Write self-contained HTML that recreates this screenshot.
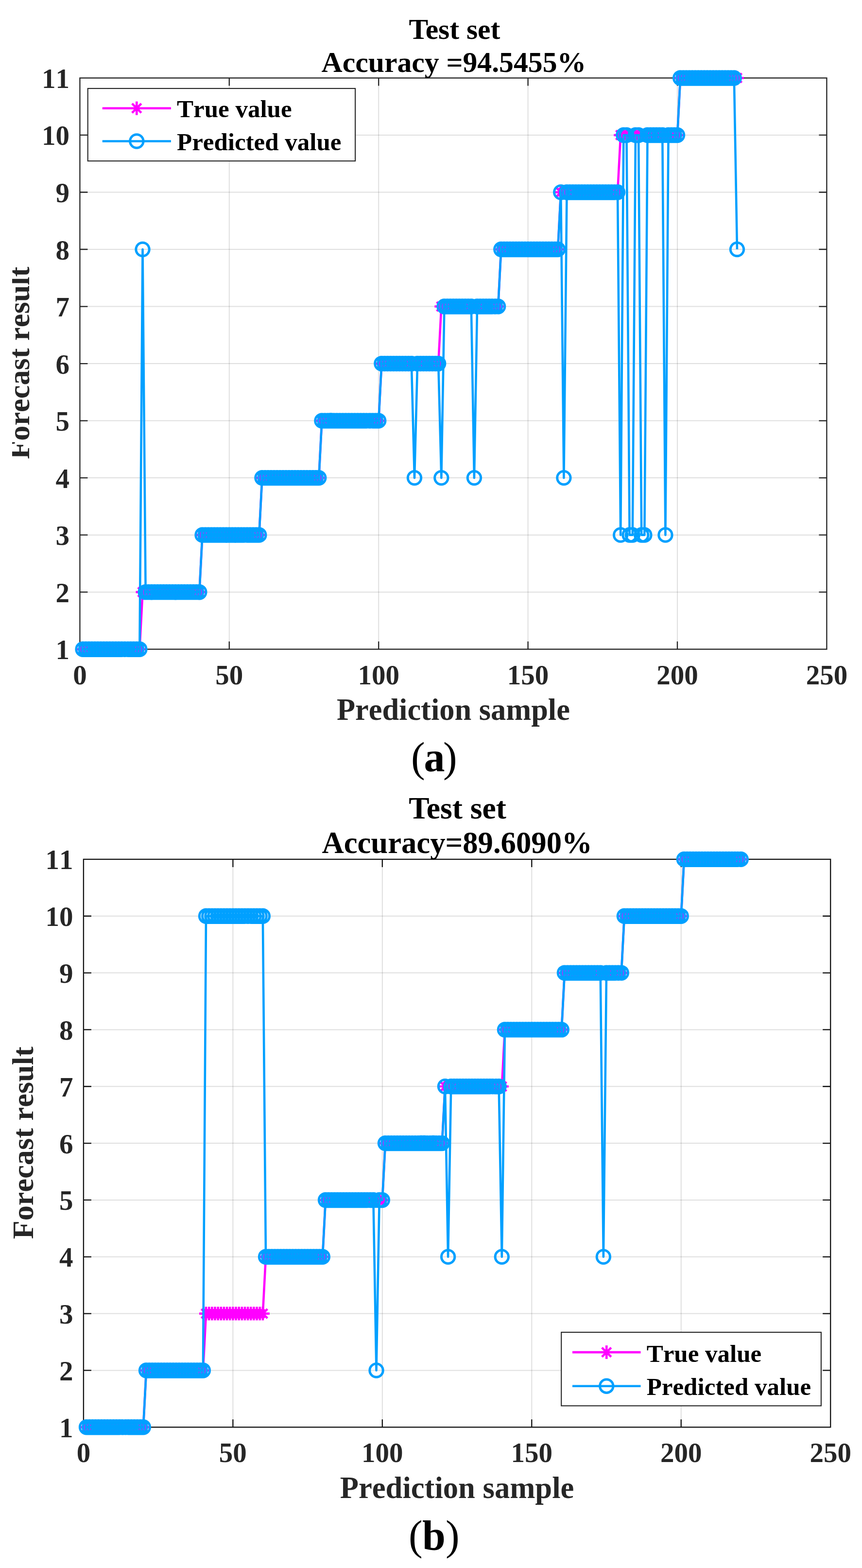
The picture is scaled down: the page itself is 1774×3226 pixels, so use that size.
<!DOCTYPE html>
<html><head><meta charset="utf-8"><title>Test set</title>
<style>html,body{margin:0;padding:0;background:#fff;}body{width:1774px;height:3226px;overflow:hidden;}svg{display:block;}text{font-kerning:normal;}text.k{font-kerning:none;}</style>
</head><body>
<svg width="1774" height="3226" viewBox="0 0 1774 3226" font-family="'Liberation Serif', 'Times New Roman', serif">
<rect width="1774" height="3226" fill="#fff"/>
<g font-weight="bold"><g stroke="#262626" stroke-opacity="0.15" stroke-width="2" fill="none"><path d="M471.8 160.45V1335.7"/><path d="M779.2 160.45V1335.7"/><path d="M1086.6 160.45V1335.7"/><path d="M1394 160.45V1335.7"/><path d="M164.4 1218.17H1701.4"/><path d="M164.4 1100.65H1701.4"/><path d="M164.4 983.12H1701.4"/><path d="M164.4 865.6H1701.4"/><path d="M164.4 748.08H1701.4"/><path d="M164.4 630.55H1701.4"/><path d="M164.4 513.02H1701.4"/><path d="M164.4 395.5H1701.4"/><path d="M164.4 277.97H1701.4"/></g>
<path d="M471.8 1335.7v-16M471.8 160.45v16M779.2 1335.7v-16M779.2 160.45v16M1086.6 1335.7v-16M1086.6 160.45v16M1394 1335.7v-16M1394 160.45v16M164.4 1218.17h16M1701.4 1218.17h-16M164.4 1100.65h16M1701.4 1100.65h-16M164.4 983.12h16M1701.4 983.12h-16M164.4 865.6h16M1701.4 865.6h-16M164.4 748.08h16M1701.4 748.08h-16M164.4 630.55h16M1701.4 630.55h-16M164.4 513.02h16M1701.4 513.02h-16M164.4 395.5h16M1701.4 395.5h-16M164.4 277.97h16M1701.4 277.97h-16" stroke="#222222" stroke-width="2.3" fill="none"/>
<rect x="164.4" y="160.45" width="1537" height="1175.25" stroke="#222222" stroke-width="2.3" fill="none"/>
<polyline points="170.55,1335.7 176.7,1335.7 182.84,1335.7 188.99,1335.7 195.14,1335.7 201.29,1335.7 207.44,1335.7 213.58,1335.7 219.73,1335.7 225.88,1335.7 232.03,1335.7 238.18,1335.7 244.32,1335.7 250.47,1335.7 256.62,1335.7 262.77,1335.7 268.92,1335.7 275.06,1335.7 281.21,1335.7 287.36,1335.7 293.51,1218.17 299.66,1218.17 305.8,1218.17 311.95,1218.17 318.1,1218.17 324.25,1218.17 330.4,1218.17 336.54,1218.17 342.69,1218.17 348.84,1218.17 354.99,1218.17 361.14,1218.17 367.28,1218.17 373.43,1218.17 379.58,1218.17 385.73,1218.17 391.88,1218.17 398.02,1218.17 404.17,1218.17 410.32,1218.17 416.47,1100.65 422.62,1100.65 428.76,1100.65 434.91,1100.65 441.06,1100.65 447.21,1100.65 453.36,1100.65 459.5,1100.65 465.65,1100.65 471.8,1100.65 477.95,1100.65 484.1,1100.65 490.24,1100.65 496.39,1100.65 502.54,1100.65 508.69,1100.65 514.84,1100.65 520.98,1100.65 527.13,1100.65 533.28,1100.65 539.43,983.12 545.58,983.12 551.72,983.12 557.87,983.12 564.02,983.12 570.17,983.12 576.32,983.12 582.46,983.12 588.61,983.12 594.76,983.12 600.91,983.12 607.06,983.12 613.2,983.12 619.35,983.12 625.5,983.12 631.65,983.12 637.8,983.12 643.94,983.12 650.09,983.12 656.24,983.12 662.39,865.6 668.54,865.6 674.68,865.6 680.83,865.6 686.98,865.6 693.13,865.6 699.28,865.6 705.42,865.6 711.57,865.6 717.72,865.6 723.87,865.6 730.02,865.6 736.16,865.6 742.31,865.6 748.46,865.6 754.61,865.6 760.76,865.6 766.9,865.6 773.05,865.6 779.2,865.6 785.35,748.08 791.5,748.08 797.64,748.08 803.79,748.08 809.94,748.08 816.09,748.08 822.24,748.08 828.38,748.08 834.53,748.08 840.68,748.08 846.83,748.08 852.98,748.08 859.12,748.08 865.27,748.08 871.42,748.08 877.57,748.08 883.72,748.08 889.86,748.08 896.01,748.08 902.16,748.08 908.31,630.55 914.46,630.55 920.6,630.55 926.75,630.55 932.9,630.55 939.05,630.55 945.2,630.55 951.34,630.55 957.49,630.55 963.64,630.55 969.79,630.55 975.94,630.55 982.08,630.55 988.23,630.55 994.38,630.55 1000.53,630.55 1006.68,630.55 1012.82,630.55 1018.97,630.55 1025.12,630.55 1031.27,513.02 1037.42,513.02 1043.56,513.02 1049.71,513.02 1055.86,513.02 1062.01,513.02 1068.16,513.02 1074.3,513.02 1080.45,513.02 1086.6,513.02 1092.75,513.02 1098.9,513.02 1105.04,513.02 1111.19,513.02 1117.34,513.02 1123.49,513.02 1129.64,513.02 1135.78,513.02 1141.93,513.02 1148.08,513.02 1154.23,395.5 1160.38,395.5 1166.52,395.5 1172.67,395.5 1178.82,395.5 1184.97,395.5 1191.12,395.5 1197.26,395.5 1203.41,395.5 1209.56,395.5 1215.71,395.5 1221.86,395.5 1228,395.5 1234.15,395.5 1240.3,395.5 1246.45,395.5 1252.6,395.5 1258.74,395.5 1264.89,395.5 1271.04,395.5 1277.19,277.97 1283.34,277.97 1289.48,277.97 1295.63,277.97 1301.78,277.97 1307.93,277.97 1314.08,277.97 1320.22,277.97 1326.37,277.97 1332.52,277.97 1338.67,277.97 1344.82,277.97 1350.96,277.97 1357.11,277.97 1363.26,277.97 1369.41,277.97 1375.56,277.97 1381.7,277.97 1387.85,277.97 1394,277.97 1400.15,160.45 1406.3,160.45 1412.44,160.45 1418.59,160.45 1424.74,160.45 1430.89,160.45 1437.04,160.45 1443.18,160.45 1449.33,160.45 1455.48,160.45 1461.63,160.45 1467.78,160.45 1473.92,160.45 1480.07,160.45 1486.22,160.45 1492.37,160.45 1498.52,160.45 1504.66,160.45 1510.81,160.45 1516.96,160.45" stroke="#FF00FF" stroke-width="4.6" fill="none" stroke-linejoin="round"/>
<path d="M170.55 1321.7v28 M156.55 1335.7h28 M161.05 1326.2l19 19 M161.05 1345.2l19 -19 M176.7 1321.7v28 M162.7 1335.7h28 M167.2 1326.2l19 19 M167.2 1345.2l19 -19 M182.84 1321.7v28 M168.84 1335.7h28 M173.34 1326.2l19 19 M173.34 1345.2l19 -19 M188.99 1321.7v28 M174.99 1335.7h28 M179.49 1326.2l19 19 M179.49 1345.2l19 -19 M195.14 1321.7v28 M181.14 1335.7h28 M185.64 1326.2l19 19 M185.64 1345.2l19 -19 M201.29 1321.7v28 M187.29 1335.7h28 M191.79 1326.2l19 19 M191.79 1345.2l19 -19 M207.44 1321.7v28 M193.44 1335.7h28 M197.94 1326.2l19 19 M197.94 1345.2l19 -19 M213.58 1321.7v28 M199.58 1335.7h28 M204.08 1326.2l19 19 M204.08 1345.2l19 -19 M219.73 1321.7v28 M205.73 1335.7h28 M210.23 1326.2l19 19 M210.23 1345.2l19 -19 M225.88 1321.7v28 M211.88 1335.7h28 M216.38 1326.2l19 19 M216.38 1345.2l19 -19 M232.03 1321.7v28 M218.03 1335.7h28 M222.53 1326.2l19 19 M222.53 1345.2l19 -19 M238.18 1321.7v28 M224.18 1335.7h28 M228.68 1326.2l19 19 M228.68 1345.2l19 -19 M244.32 1321.7v28 M230.32 1335.7h28 M234.82 1326.2l19 19 M234.82 1345.2l19 -19 M250.47 1321.7v28 M236.47 1335.7h28 M240.97 1326.2l19 19 M240.97 1345.2l19 -19 M256.62 1321.7v28 M242.62 1335.7h28 M247.12 1326.2l19 19 M247.12 1345.2l19 -19 M262.77 1321.7v28 M248.77 1335.7h28 M253.27 1326.2l19 19 M253.27 1345.2l19 -19 M268.92 1321.7v28 M254.92 1335.7h28 M259.42 1326.2l19 19 M259.42 1345.2l19 -19 M275.06 1321.7v28 M261.06 1335.7h28 M265.56 1326.2l19 19 M265.56 1345.2l19 -19 M281.21 1321.7v28 M267.21 1335.7h28 M271.71 1326.2l19 19 M271.71 1345.2l19 -19 M287.36 1321.7v28 M273.36 1335.7h28 M277.86 1326.2l19 19 M277.86 1345.2l19 -19 M293.51 1204.17v28 M279.51 1218.17h28 M284.01 1208.67l19 19 M284.01 1227.67l19 -19 M299.66 1204.17v28 M285.66 1218.17h28 M290.16 1208.67l19 19 M290.16 1227.67l19 -19 M305.8 1204.17v28 M291.8 1218.17h28 M296.3 1208.67l19 19 M296.3 1227.67l19 -19 M311.95 1204.17v28 M297.95 1218.17h28 M302.45 1208.67l19 19 M302.45 1227.67l19 -19 M318.1 1204.17v28 M304.1 1218.17h28 M308.6 1208.67l19 19 M308.6 1227.67l19 -19 M324.25 1204.17v28 M310.25 1218.17h28 M314.75 1208.67l19 19 M314.75 1227.67l19 -19 M330.4 1204.17v28 M316.4 1218.17h28 M320.9 1208.67l19 19 M320.9 1227.67l19 -19 M336.54 1204.17v28 M322.54 1218.17h28 M327.04 1208.67l19 19 M327.04 1227.67l19 -19 M342.69 1204.17v28 M328.69 1218.17h28 M333.19 1208.67l19 19 M333.19 1227.67l19 -19 M348.84 1204.17v28 M334.84 1218.17h28 M339.34 1208.67l19 19 M339.34 1227.67l19 -19 M354.99 1204.17v28 M340.99 1218.17h28 M345.49 1208.67l19 19 M345.49 1227.67l19 -19 M361.14 1204.17v28 M347.14 1218.17h28 M351.64 1208.67l19 19 M351.64 1227.67l19 -19 M367.28 1204.17v28 M353.28 1218.17h28 M357.78 1208.67l19 19 M357.78 1227.67l19 -19 M373.43 1204.17v28 M359.43 1218.17h28 M363.93 1208.67l19 19 M363.93 1227.67l19 -19 M379.58 1204.17v28 M365.58 1218.17h28 M370.08 1208.67l19 19 M370.08 1227.67l19 -19 M385.73 1204.17v28 M371.73 1218.17h28 M376.23 1208.67l19 19 M376.23 1227.67l19 -19 M391.88 1204.17v28 M377.88 1218.17h28 M382.38 1208.67l19 19 M382.38 1227.67l19 -19 M398.02 1204.17v28 M384.02 1218.17h28 M388.52 1208.67l19 19 M388.52 1227.67l19 -19 M404.17 1204.17v28 M390.17 1218.17h28 M394.67 1208.67l19 19 M394.67 1227.67l19 -19 M410.32 1204.17v28 M396.32 1218.17h28 M400.82 1208.67l19 19 M400.82 1227.67l19 -19 M416.47 1086.65v28 M402.47 1100.65h28 M406.97 1091.15l19 19 M406.97 1110.15l19 -19 M422.62 1086.65v28 M408.62 1100.65h28 M413.12 1091.15l19 19 M413.12 1110.15l19 -19 M428.76 1086.65v28 M414.76 1100.65h28 M419.26 1091.15l19 19 M419.26 1110.15l19 -19 M434.91 1086.65v28 M420.91 1100.65h28 M425.41 1091.15l19 19 M425.41 1110.15l19 -19 M441.06 1086.65v28 M427.06 1100.65h28 M431.56 1091.15l19 19 M431.56 1110.15l19 -19 M447.21 1086.65v28 M433.21 1100.65h28 M437.71 1091.15l19 19 M437.71 1110.15l19 -19 M453.36 1086.65v28 M439.36 1100.65h28 M443.86 1091.15l19 19 M443.86 1110.15l19 -19 M459.5 1086.65v28 M445.5 1100.65h28 M450 1091.15l19 19 M450 1110.15l19 -19 M465.65 1086.65v28 M451.65 1100.65h28 M456.15 1091.15l19 19 M456.15 1110.15l19 -19 M471.8 1086.65v28 M457.8 1100.65h28 M462.3 1091.15l19 19 M462.3 1110.15l19 -19 M477.95 1086.65v28 M463.95 1100.65h28 M468.45 1091.15l19 19 M468.45 1110.15l19 -19 M484.1 1086.65v28 M470.1 1100.65h28 M474.6 1091.15l19 19 M474.6 1110.15l19 -19 M490.24 1086.65v28 M476.24 1100.65h28 M480.74 1091.15l19 19 M480.74 1110.15l19 -19 M496.39 1086.65v28 M482.39 1100.65h28 M486.89 1091.15l19 19 M486.89 1110.15l19 -19 M502.54 1086.65v28 M488.54 1100.65h28 M493.04 1091.15l19 19 M493.04 1110.15l19 -19 M508.69 1086.65v28 M494.69 1100.65h28 M499.19 1091.15l19 19 M499.19 1110.15l19 -19 M514.84 1086.65v28 M500.84 1100.65h28 M505.34 1091.15l19 19 M505.34 1110.15l19 -19 M520.98 1086.65v28 M506.98 1100.65h28 M511.48 1091.15l19 19 M511.48 1110.15l19 -19 M527.13 1086.65v28 M513.13 1100.65h28 M517.63 1091.15l19 19 M517.63 1110.15l19 -19 M533.28 1086.65v28 M519.28 1100.65h28 M523.78 1091.15l19 19 M523.78 1110.15l19 -19 M539.43 969.12v28 M525.43 983.12h28 M529.93 973.62l19 19 M529.93 992.62l19 -19 M545.58 969.12v28 M531.58 983.12h28 M536.08 973.62l19 19 M536.08 992.62l19 -19 M551.72 969.12v28 M537.72 983.12h28 M542.22 973.62l19 19 M542.22 992.62l19 -19 M557.87 969.12v28 M543.87 983.12h28 M548.37 973.62l19 19 M548.37 992.62l19 -19 M564.02 969.12v28 M550.02 983.12h28 M554.52 973.62l19 19 M554.52 992.62l19 -19 M570.17 969.12v28 M556.17 983.12h28 M560.67 973.62l19 19 M560.67 992.62l19 -19 M576.32 969.12v28 M562.32 983.12h28 M566.82 973.62l19 19 M566.82 992.62l19 -19 M582.46 969.12v28 M568.46 983.12h28 M572.96 973.62l19 19 M572.96 992.62l19 -19 M588.61 969.12v28 M574.61 983.12h28 M579.11 973.62l19 19 M579.11 992.62l19 -19 M594.76 969.12v28 M580.76 983.12h28 M585.26 973.62l19 19 M585.26 992.62l19 -19 M600.91 969.12v28 M586.91 983.12h28 M591.41 973.62l19 19 M591.41 992.62l19 -19 M607.06 969.12v28 M593.06 983.12h28 M597.56 973.62l19 19 M597.56 992.62l19 -19 M613.2 969.12v28 M599.2 983.12h28 M603.7 973.62l19 19 M603.7 992.62l19 -19 M619.35 969.12v28 M605.35 983.12h28 M609.85 973.62l19 19 M609.85 992.62l19 -19 M625.5 969.12v28 M611.5 983.12h28 M616 973.62l19 19 M616 992.62l19 -19 M631.65 969.12v28 M617.65 983.12h28 M622.15 973.62l19 19 M622.15 992.62l19 -19 M637.8 969.12v28 M623.8 983.12h28 M628.3 973.62l19 19 M628.3 992.62l19 -19 M643.94 969.12v28 M629.94 983.12h28 M634.44 973.62l19 19 M634.44 992.62l19 -19 M650.09 969.12v28 M636.09 983.12h28 M640.59 973.62l19 19 M640.59 992.62l19 -19 M656.24 969.12v28 M642.24 983.12h28 M646.74 973.62l19 19 M646.74 992.62l19 -19 M662.39 851.6v28 M648.39 865.6h28 M652.89 856.1l19 19 M652.89 875.1l19 -19 M668.54 851.6v28 M654.54 865.6h28 M659.04 856.1l19 19 M659.04 875.1l19 -19 M674.68 851.6v28 M660.68 865.6h28 M665.18 856.1l19 19 M665.18 875.1l19 -19 M680.83 851.6v28 M666.83 865.6h28 M671.33 856.1l19 19 M671.33 875.1l19 -19 M686.98 851.6v28 M672.98 865.6h28 M677.48 856.1l19 19 M677.48 875.1l19 -19 M693.13 851.6v28 M679.13 865.6h28 M683.63 856.1l19 19 M683.63 875.1l19 -19 M699.28 851.6v28 M685.28 865.6h28 M689.78 856.1l19 19 M689.78 875.1l19 -19 M705.42 851.6v28 M691.42 865.6h28 M695.92 856.1l19 19 M695.92 875.1l19 -19 M711.57 851.6v28 M697.57 865.6h28 M702.07 856.1l19 19 M702.07 875.1l19 -19 M717.72 851.6v28 M703.72 865.6h28 M708.22 856.1l19 19 M708.22 875.1l19 -19 M723.87 851.6v28 M709.87 865.6h28 M714.37 856.1l19 19 M714.37 875.1l19 -19 M730.02 851.6v28 M716.02 865.6h28 M720.52 856.1l19 19 M720.52 875.1l19 -19 M736.16 851.6v28 M722.16 865.6h28 M726.66 856.1l19 19 M726.66 875.1l19 -19 M742.31 851.6v28 M728.31 865.6h28 M732.81 856.1l19 19 M732.81 875.1l19 -19 M748.46 851.6v28 M734.46 865.6h28 M738.96 856.1l19 19 M738.96 875.1l19 -19 M754.61 851.6v28 M740.61 865.6h28 M745.11 856.1l19 19 M745.11 875.1l19 -19 M760.76 851.6v28 M746.76 865.6h28 M751.26 856.1l19 19 M751.26 875.1l19 -19 M766.9 851.6v28 M752.9 865.6h28 M757.4 856.1l19 19 M757.4 875.1l19 -19 M773.05 851.6v28 M759.05 865.6h28 M763.55 856.1l19 19 M763.55 875.1l19 -19 M779.2 851.6v28 M765.2 865.6h28 M769.7 856.1l19 19 M769.7 875.1l19 -19 M785.35 734.08v28 M771.35 748.08h28 M775.85 738.58l19 19 M775.85 757.58l19 -19 M791.5 734.08v28 M777.5 748.08h28 M782 738.58l19 19 M782 757.58l19 -19 M797.64 734.08v28 M783.64 748.08h28 M788.14 738.58l19 19 M788.14 757.58l19 -19 M803.79 734.08v28 M789.79 748.08h28 M794.29 738.58l19 19 M794.29 757.58l19 -19 M809.94 734.08v28 M795.94 748.08h28 M800.44 738.58l19 19 M800.44 757.58l19 -19 M816.09 734.08v28 M802.09 748.08h28 M806.59 738.58l19 19 M806.59 757.58l19 -19 M822.24 734.08v28 M808.24 748.08h28 M812.74 738.58l19 19 M812.74 757.58l19 -19 M828.38 734.08v28 M814.38 748.08h28 M818.88 738.58l19 19 M818.88 757.58l19 -19 M834.53 734.08v28 M820.53 748.08h28 M825.03 738.58l19 19 M825.03 757.58l19 -19 M840.68 734.08v28 M826.68 748.08h28 M831.18 738.58l19 19 M831.18 757.58l19 -19 M846.83 734.08v28 M832.83 748.08h28 M837.33 738.58l19 19 M837.33 757.58l19 -19 M852.98 734.08v28 M838.98 748.08h28 M843.48 738.58l19 19 M843.48 757.58l19 -19 M859.12 734.08v28 M845.12 748.08h28 M849.62 738.58l19 19 M849.62 757.58l19 -19 M865.27 734.08v28 M851.27 748.08h28 M855.77 738.58l19 19 M855.77 757.58l19 -19 M871.42 734.08v28 M857.42 748.08h28 M861.92 738.58l19 19 M861.92 757.58l19 -19 M877.57 734.08v28 M863.57 748.08h28 M868.07 738.58l19 19 M868.07 757.58l19 -19 M883.72 734.08v28 M869.72 748.08h28 M874.22 738.58l19 19 M874.22 757.58l19 -19 M889.86 734.08v28 M875.86 748.08h28 M880.36 738.58l19 19 M880.36 757.58l19 -19 M896.01 734.08v28 M882.01 748.08h28 M886.51 738.58l19 19 M886.51 757.58l19 -19 M902.16 734.08v28 M888.16 748.08h28 M892.66 738.58l19 19 M892.66 757.58l19 -19 M908.31 616.55v28 M894.31 630.55h28 M898.81 621.05l19 19 M898.81 640.05l19 -19 M914.46 616.55v28 M900.46 630.55h28 M904.96 621.05l19 19 M904.96 640.05l19 -19 M920.6 616.55v28 M906.6 630.55h28 M911.1 621.05l19 19 M911.1 640.05l19 -19 M926.75 616.55v28 M912.75 630.55h28 M917.25 621.05l19 19 M917.25 640.05l19 -19 M932.9 616.55v28 M918.9 630.55h28 M923.4 621.05l19 19 M923.4 640.05l19 -19 M939.05 616.55v28 M925.05 630.55h28 M929.55 621.05l19 19 M929.55 640.05l19 -19 M945.2 616.55v28 M931.2 630.55h28 M935.7 621.05l19 19 M935.7 640.05l19 -19 M951.34 616.55v28 M937.34 630.55h28 M941.84 621.05l19 19 M941.84 640.05l19 -19 M957.49 616.55v28 M943.49 630.55h28 M947.99 621.05l19 19 M947.99 640.05l19 -19 M963.64 616.55v28 M949.64 630.55h28 M954.14 621.05l19 19 M954.14 640.05l19 -19 M969.79 616.55v28 M955.79 630.55h28 M960.29 621.05l19 19 M960.29 640.05l19 -19 M975.94 616.55v28 M961.94 630.55h28 M966.44 621.05l19 19 M966.44 640.05l19 -19 M982.08 616.55v28 M968.08 630.55h28 M972.58 621.05l19 19 M972.58 640.05l19 -19 M988.23 616.55v28 M974.23 630.55h28 M978.73 621.05l19 19 M978.73 640.05l19 -19 M994.38 616.55v28 M980.38 630.55h28 M984.88 621.05l19 19 M984.88 640.05l19 -19 M1000.53 616.55v28 M986.53 630.55h28 M991.03 621.05l19 19 M991.03 640.05l19 -19 M1006.68 616.55v28 M992.68 630.55h28 M997.18 621.05l19 19 M997.18 640.05l19 -19 M1012.82 616.55v28 M998.82 630.55h28 M1003.32 621.05l19 19 M1003.32 640.05l19 -19 M1018.97 616.55v28 M1004.97 630.55h28 M1009.47 621.05l19 19 M1009.47 640.05l19 -19 M1025.12 616.55v28 M1011.12 630.55h28 M1015.62 621.05l19 19 M1015.62 640.05l19 -19 M1031.27 499.02v28 M1017.27 513.02h28 M1021.77 503.52l19 19 M1021.77 522.52l19 -19 M1037.42 499.02v28 M1023.42 513.02h28 M1027.92 503.52l19 19 M1027.92 522.52l19 -19 M1043.56 499.02v28 M1029.56 513.02h28 M1034.06 503.52l19 19 M1034.06 522.52l19 -19 M1049.71 499.02v28 M1035.71 513.02h28 M1040.21 503.52l19 19 M1040.21 522.52l19 -19 M1055.86 499.02v28 M1041.86 513.02h28 M1046.36 503.52l19 19 M1046.36 522.52l19 -19 M1062.01 499.02v28 M1048.01 513.02h28 M1052.51 503.52l19 19 M1052.51 522.52l19 -19 M1068.16 499.02v28 M1054.16 513.02h28 M1058.66 503.52l19 19 M1058.66 522.52l19 -19 M1074.3 499.02v28 M1060.3 513.02h28 M1064.8 503.52l19 19 M1064.8 522.52l19 -19 M1080.45 499.02v28 M1066.45 513.02h28 M1070.95 503.52l19 19 M1070.95 522.52l19 -19 M1086.6 499.02v28 M1072.6 513.02h28 M1077.1 503.52l19 19 M1077.1 522.52l19 -19 M1092.75 499.02v28 M1078.75 513.02h28 M1083.25 503.52l19 19 M1083.25 522.52l19 -19 M1098.9 499.02v28 M1084.9 513.02h28 M1089.4 503.52l19 19 M1089.4 522.52l19 -19 M1105.04 499.02v28 M1091.04 513.02h28 M1095.54 503.52l19 19 M1095.54 522.52l19 -19 M1111.19 499.02v28 M1097.19 513.02h28 M1101.69 503.52l19 19 M1101.69 522.52l19 -19 M1117.34 499.02v28 M1103.34 513.02h28 M1107.84 503.52l19 19 M1107.84 522.52l19 -19 M1123.49 499.02v28 M1109.49 513.02h28 M1113.99 503.52l19 19 M1113.99 522.52l19 -19 M1129.64 499.02v28 M1115.64 513.02h28 M1120.14 503.52l19 19 M1120.14 522.52l19 -19 M1135.78 499.02v28 M1121.78 513.02h28 M1126.28 503.52l19 19 M1126.28 522.52l19 -19 M1141.93 499.02v28 M1127.93 513.02h28 M1132.43 503.52l19 19 M1132.43 522.52l19 -19 M1148.08 499.02v28 M1134.08 513.02h28 M1138.58 503.52l19 19 M1138.58 522.52l19 -19 M1154.23 381.5v28 M1140.23 395.5h28 M1144.73 386l19 19 M1144.73 405l19 -19 M1160.38 381.5v28 M1146.38 395.5h28 M1150.88 386l19 19 M1150.88 405l19 -19 M1166.52 381.5v28 M1152.52 395.5h28 M1157.02 386l19 19 M1157.02 405l19 -19 M1172.67 381.5v28 M1158.67 395.5h28 M1163.17 386l19 19 M1163.17 405l19 -19 M1178.82 381.5v28 M1164.82 395.5h28 M1169.32 386l19 19 M1169.32 405l19 -19 M1184.97 381.5v28 M1170.97 395.5h28 M1175.47 386l19 19 M1175.47 405l19 -19 M1191.12 381.5v28 M1177.12 395.5h28 M1181.62 386l19 19 M1181.62 405l19 -19 M1197.26 381.5v28 M1183.26 395.5h28 M1187.76 386l19 19 M1187.76 405l19 -19 M1203.41 381.5v28 M1189.41 395.5h28 M1193.91 386l19 19 M1193.91 405l19 -19 M1209.56 381.5v28 M1195.56 395.5h28 M1200.06 386l19 19 M1200.06 405l19 -19 M1215.71 381.5v28 M1201.71 395.5h28 M1206.21 386l19 19 M1206.21 405l19 -19 M1221.86 381.5v28 M1207.86 395.5h28 M1212.36 386l19 19 M1212.36 405l19 -19 M1228 381.5v28 M1214 395.5h28 M1218.5 386l19 19 M1218.5 405l19 -19 M1234.15 381.5v28 M1220.15 395.5h28 M1224.65 386l19 19 M1224.65 405l19 -19 M1240.3 381.5v28 M1226.3 395.5h28 M1230.8 386l19 19 M1230.8 405l19 -19 M1246.45 381.5v28 M1232.45 395.5h28 M1236.95 386l19 19 M1236.95 405l19 -19 M1252.6 381.5v28 M1238.6 395.5h28 M1243.1 386l19 19 M1243.1 405l19 -19 M1258.74 381.5v28 M1244.74 395.5h28 M1249.24 386l19 19 M1249.24 405l19 -19 M1264.89 381.5v28 M1250.89 395.5h28 M1255.39 386l19 19 M1255.39 405l19 -19 M1271.04 381.5v28 M1257.04 395.5h28 M1261.54 386l19 19 M1261.54 405l19 -19 M1277.19 263.97v28 M1263.19 277.97h28 M1267.69 268.47l19 19 M1267.69 287.47l19 -19 M1283.34 263.97v28 M1269.34 277.97h28 M1273.84 268.47l19 19 M1273.84 287.47l19 -19 M1289.48 263.97v28 M1275.48 277.97h28 M1279.98 268.47l19 19 M1279.98 287.47l19 -19 M1295.63 263.97v28 M1281.63 277.97h28 M1286.13 268.47l19 19 M1286.13 287.47l19 -19 M1301.78 263.97v28 M1287.78 277.97h28 M1292.28 268.47l19 19 M1292.28 287.47l19 -19 M1307.93 263.97v28 M1293.93 277.97h28 M1298.43 268.47l19 19 M1298.43 287.47l19 -19 M1314.08 263.97v28 M1300.08 277.97h28 M1304.58 268.47l19 19 M1304.58 287.47l19 -19 M1320.22 263.97v28 M1306.22 277.97h28 M1310.72 268.47l19 19 M1310.72 287.47l19 -19 M1326.37 263.97v28 M1312.37 277.97h28 M1316.87 268.47l19 19 M1316.87 287.47l19 -19 M1332.52 263.97v28 M1318.52 277.97h28 M1323.02 268.47l19 19 M1323.02 287.47l19 -19 M1338.67 263.97v28 M1324.67 277.97h28 M1329.17 268.47l19 19 M1329.17 287.47l19 -19 M1344.82 263.97v28 M1330.82 277.97h28 M1335.32 268.47l19 19 M1335.32 287.47l19 -19 M1350.96 263.97v28 M1336.96 277.97h28 M1341.46 268.47l19 19 M1341.46 287.47l19 -19 M1357.11 263.97v28 M1343.11 277.97h28 M1347.61 268.47l19 19 M1347.61 287.47l19 -19 M1363.26 263.97v28 M1349.26 277.97h28 M1353.76 268.47l19 19 M1353.76 287.47l19 -19 M1369.41 263.97v28 M1355.41 277.97h28 M1359.91 268.47l19 19 M1359.91 287.47l19 -19 M1375.56 263.97v28 M1361.56 277.97h28 M1366.06 268.47l19 19 M1366.06 287.47l19 -19 M1381.7 263.97v28 M1367.7 277.97h28 M1372.2 268.47l19 19 M1372.2 287.47l19 -19 M1387.85 263.97v28 M1373.85 277.97h28 M1378.35 268.47l19 19 M1378.35 287.47l19 -19 M1394 263.97v28 M1380 277.97h28 M1384.5 268.47l19 19 M1384.5 287.47l19 -19 M1400.15 146.45v28 M1386.15 160.45h28 M1390.65 150.95l19 19 M1390.65 169.95l19 -19 M1406.3 146.45v28 M1392.3 160.45h28 M1396.8 150.95l19 19 M1396.8 169.95l19 -19 M1412.44 146.45v28 M1398.44 160.45h28 M1402.94 150.95l19 19 M1402.94 169.95l19 -19 M1418.59 146.45v28 M1404.59 160.45h28 M1409.09 150.95l19 19 M1409.09 169.95l19 -19 M1424.74 146.45v28 M1410.74 160.45h28 M1415.24 150.95l19 19 M1415.24 169.95l19 -19 M1430.89 146.45v28 M1416.89 160.45h28 M1421.39 150.95l19 19 M1421.39 169.95l19 -19 M1437.04 146.45v28 M1423.04 160.45h28 M1427.54 150.95l19 19 M1427.54 169.95l19 -19 M1443.18 146.45v28 M1429.18 160.45h28 M1433.68 150.95l19 19 M1433.68 169.95l19 -19 M1449.33 146.45v28 M1435.33 160.45h28 M1439.83 150.95l19 19 M1439.83 169.95l19 -19 M1455.48 146.45v28 M1441.48 160.45h28 M1445.98 150.95l19 19 M1445.98 169.95l19 -19 M1461.63 146.45v28 M1447.63 160.45h28 M1452.13 150.95l19 19 M1452.13 169.95l19 -19 M1467.78 146.45v28 M1453.78 160.45h28 M1458.28 150.95l19 19 M1458.28 169.95l19 -19 M1473.92 146.45v28 M1459.92 160.45h28 M1464.42 150.95l19 19 M1464.42 169.95l19 -19 M1480.07 146.45v28 M1466.07 160.45h28 M1470.57 150.95l19 19 M1470.57 169.95l19 -19 M1486.22 146.45v28 M1472.22 160.45h28 M1476.72 150.95l19 19 M1476.72 169.95l19 -19 M1492.37 146.45v28 M1478.37 160.45h28 M1482.87 150.95l19 19 M1482.87 169.95l19 -19 M1498.52 146.45v28 M1484.52 160.45h28 M1489.02 150.95l19 19 M1489.02 169.95l19 -19 M1504.66 146.45v28 M1490.66 160.45h28 M1495.16 150.95l19 19 M1495.16 169.95l19 -19 M1510.81 146.45v28 M1496.81 160.45h28 M1501.31 150.95l19 19 M1501.31 169.95l19 -19 M1516.96 146.45v28 M1502.96 160.45h28 M1507.46 150.95l19 19 M1507.46 169.95l19 -19" stroke="#FF00FF" stroke-width="4.6" fill="none"/>
<polyline points="170.55,1335.7 176.7,1335.7 182.84,1335.7 188.99,1335.7 195.14,1335.7 201.29,1335.7 207.44,1335.7 213.58,1335.7 219.73,1335.7 225.88,1335.7 232.03,1335.7 238.18,1335.7 244.32,1335.7 250.47,1335.7 256.62,1335.7 262.77,1335.7 268.92,1335.7 275.06,1335.7 281.21,1335.7 287.36,1335.7 293.51,513.02 299.66,1218.17 305.8,1218.17 311.95,1218.17 318.1,1218.17 324.25,1218.17 330.4,1218.17 336.54,1218.17 342.69,1218.17 348.84,1218.17 354.99,1218.17 361.14,1218.17 367.28,1218.17 373.43,1218.17 379.58,1218.17 385.73,1218.17 391.88,1218.17 398.02,1218.17 404.17,1218.17 410.32,1218.17 416.47,1100.65 422.62,1100.65 428.76,1100.65 434.91,1100.65 441.06,1100.65 447.21,1100.65 453.36,1100.65 459.5,1100.65 465.65,1100.65 471.8,1100.65 477.95,1100.65 484.1,1100.65 490.24,1100.65 496.39,1100.65 502.54,1100.65 508.69,1100.65 514.84,1100.65 520.98,1100.65 527.13,1100.65 533.28,1100.65 539.43,983.12 545.58,983.12 551.72,983.12 557.87,983.12 564.02,983.12 570.17,983.12 576.32,983.12 582.46,983.12 588.61,983.12 594.76,983.12 600.91,983.12 607.06,983.12 613.2,983.12 619.35,983.12 625.5,983.12 631.65,983.12 637.8,983.12 643.94,983.12 650.09,983.12 656.24,983.12 662.39,865.6 668.54,865.6 674.68,865.6 680.83,865.6 686.98,865.6 693.13,865.6 699.28,865.6 705.42,865.6 711.57,865.6 717.72,865.6 723.87,865.6 730.02,865.6 736.16,865.6 742.31,865.6 748.46,865.6 754.61,865.6 760.76,865.6 766.9,865.6 773.05,865.6 779.2,865.6 785.35,748.08 791.5,748.08 797.64,748.08 803.79,748.08 809.94,748.08 816.09,748.08 822.24,748.08 828.38,748.08 834.53,748.08 840.68,748.08 846.83,748.08 852.98,983.12 859.12,748.08 865.27,748.08 871.42,748.08 877.57,748.08 883.72,748.08 889.86,748.08 896.01,748.08 902.16,748.08 908.31,983.12 914.46,630.55 920.6,630.55 926.75,630.55 932.9,630.55 939.05,630.55 945.2,630.55 951.34,630.55 957.49,630.55 963.64,630.55 969.79,630.55 975.94,983.12 982.08,630.55 988.23,630.55 994.38,630.55 1000.53,630.55 1006.68,630.55 1012.82,630.55 1018.97,630.55 1025.12,630.55 1031.27,513.02 1037.42,513.02 1043.56,513.02 1049.71,513.02 1055.86,513.02 1062.01,513.02 1068.16,513.02 1074.3,513.02 1080.45,513.02 1086.6,513.02 1092.75,513.02 1098.9,513.02 1105.04,513.02 1111.19,513.02 1117.34,513.02 1123.49,513.02 1129.64,513.02 1135.78,513.02 1141.93,513.02 1148.08,513.02 1154.23,395.5 1160.38,983.12 1166.52,395.5 1172.67,395.5 1178.82,395.5 1184.97,395.5 1191.12,395.5 1197.26,395.5 1203.41,395.5 1209.56,395.5 1215.71,395.5 1221.86,395.5 1228,395.5 1234.15,395.5 1240.3,395.5 1246.45,395.5 1252.6,395.5 1258.74,395.5 1264.89,395.5 1271.04,395.5 1277.19,1100.65 1283.34,277.97 1289.48,277.97 1295.63,1100.65 1301.78,1100.65 1307.93,277.97 1314.08,277.97 1320.22,1100.65 1326.37,1100.65 1332.52,277.97 1338.67,277.97 1344.82,277.97 1350.96,277.97 1357.11,277.97 1363.26,277.97 1369.41,1100.65 1375.56,277.97 1381.7,277.97 1387.85,277.97 1394,277.97 1400.15,160.45 1406.3,160.45 1412.44,160.45 1418.59,160.45 1424.74,160.45 1430.89,160.45 1437.04,160.45 1443.18,160.45 1449.33,160.45 1455.48,160.45 1461.63,160.45 1467.78,160.45 1473.92,160.45 1480.07,160.45 1486.22,160.45 1492.37,160.45 1498.52,160.45 1504.66,160.45 1510.81,160.45 1516.96,513.02" stroke="#00A0FF" stroke-width="4.6" fill="none" stroke-linejoin="round"/>
<path d="M156.85 1335.7a13.7 13.7 0 1 0 27.4 0a13.7 13.7 0 1 0 -27.4 0M163 1335.7a13.7 13.7 0 1 0 27.4 0a13.7 13.7 0 1 0 -27.4 0M169.14 1335.7a13.7 13.7 0 1 0 27.4 0a13.7 13.7 0 1 0 -27.4 0M175.29 1335.7a13.7 13.7 0 1 0 27.4 0a13.7 13.7 0 1 0 -27.4 0M181.44 1335.7a13.7 13.7 0 1 0 27.4 0a13.7 13.7 0 1 0 -27.4 0M187.59 1335.7a13.7 13.7 0 1 0 27.4 0a13.7 13.7 0 1 0 -27.4 0M193.74 1335.7a13.7 13.7 0 1 0 27.4 0a13.7 13.7 0 1 0 -27.4 0M199.88 1335.7a13.7 13.7 0 1 0 27.4 0a13.7 13.7 0 1 0 -27.4 0M206.03 1335.7a13.7 13.7 0 1 0 27.4 0a13.7 13.7 0 1 0 -27.4 0M212.18 1335.7a13.7 13.7 0 1 0 27.4 0a13.7 13.7 0 1 0 -27.4 0M218.33 1335.7a13.7 13.7 0 1 0 27.4 0a13.7 13.7 0 1 0 -27.4 0M224.48 1335.7a13.7 13.7 0 1 0 27.4 0a13.7 13.7 0 1 0 -27.4 0M230.62 1335.7a13.7 13.7 0 1 0 27.4 0a13.7 13.7 0 1 0 -27.4 0M236.77 1335.7a13.7 13.7 0 1 0 27.4 0a13.7 13.7 0 1 0 -27.4 0M242.92 1335.7a13.7 13.7 0 1 0 27.4 0a13.7 13.7 0 1 0 -27.4 0M249.07 1335.7a13.7 13.7 0 1 0 27.4 0a13.7 13.7 0 1 0 -27.4 0M255.22 1335.7a13.7 13.7 0 1 0 27.4 0a13.7 13.7 0 1 0 -27.4 0M261.36 1335.7a13.7 13.7 0 1 0 27.4 0a13.7 13.7 0 1 0 -27.4 0M267.51 1335.7a13.7 13.7 0 1 0 27.4 0a13.7 13.7 0 1 0 -27.4 0M273.66 1335.7a13.7 13.7 0 1 0 27.4 0a13.7 13.7 0 1 0 -27.4 0M279.81 513.02a13.7 13.7 0 1 0 27.4 0a13.7 13.7 0 1 0 -27.4 0M285.96 1218.17a13.7 13.7 0 1 0 27.4 0a13.7 13.7 0 1 0 -27.4 0M292.1 1218.17a13.7 13.7 0 1 0 27.4 0a13.7 13.7 0 1 0 -27.4 0M298.25 1218.17a13.7 13.7 0 1 0 27.4 0a13.7 13.7 0 1 0 -27.4 0M304.4 1218.17a13.7 13.7 0 1 0 27.4 0a13.7 13.7 0 1 0 -27.4 0M310.55 1218.17a13.7 13.7 0 1 0 27.4 0a13.7 13.7 0 1 0 -27.4 0M316.7 1218.17a13.7 13.7 0 1 0 27.4 0a13.7 13.7 0 1 0 -27.4 0M322.84 1218.17a13.7 13.7 0 1 0 27.4 0a13.7 13.7 0 1 0 -27.4 0M328.99 1218.17a13.7 13.7 0 1 0 27.4 0a13.7 13.7 0 1 0 -27.4 0M335.14 1218.17a13.7 13.7 0 1 0 27.4 0a13.7 13.7 0 1 0 -27.4 0M341.29 1218.17a13.7 13.7 0 1 0 27.4 0a13.7 13.7 0 1 0 -27.4 0M347.44 1218.17a13.7 13.7 0 1 0 27.4 0a13.7 13.7 0 1 0 -27.4 0M353.58 1218.17a13.7 13.7 0 1 0 27.4 0a13.7 13.7 0 1 0 -27.4 0M359.73 1218.17a13.7 13.7 0 1 0 27.4 0a13.7 13.7 0 1 0 -27.4 0M365.88 1218.17a13.7 13.7 0 1 0 27.4 0a13.7 13.7 0 1 0 -27.4 0M372.03 1218.17a13.7 13.7 0 1 0 27.4 0a13.7 13.7 0 1 0 -27.4 0M378.18 1218.17a13.7 13.7 0 1 0 27.4 0a13.7 13.7 0 1 0 -27.4 0M384.32 1218.17a13.7 13.7 0 1 0 27.4 0a13.7 13.7 0 1 0 -27.4 0M390.47 1218.17a13.7 13.7 0 1 0 27.4 0a13.7 13.7 0 1 0 -27.4 0M396.62 1218.17a13.7 13.7 0 1 0 27.4 0a13.7 13.7 0 1 0 -27.4 0M402.77 1100.65a13.7 13.7 0 1 0 27.4 0a13.7 13.7 0 1 0 -27.4 0M408.92 1100.65a13.7 13.7 0 1 0 27.4 0a13.7 13.7 0 1 0 -27.4 0M415.06 1100.65a13.7 13.7 0 1 0 27.4 0a13.7 13.7 0 1 0 -27.4 0M421.21 1100.65a13.7 13.7 0 1 0 27.4 0a13.7 13.7 0 1 0 -27.4 0M427.36 1100.65a13.7 13.7 0 1 0 27.4 0a13.7 13.7 0 1 0 -27.4 0M433.51 1100.65a13.7 13.7 0 1 0 27.4 0a13.7 13.7 0 1 0 -27.4 0M439.66 1100.65a13.7 13.7 0 1 0 27.4 0a13.7 13.7 0 1 0 -27.4 0M445.8 1100.65a13.7 13.7 0 1 0 27.4 0a13.7 13.7 0 1 0 -27.4 0M451.95 1100.65a13.7 13.7 0 1 0 27.4 0a13.7 13.7 0 1 0 -27.4 0M458.1 1100.65a13.7 13.7 0 1 0 27.4 0a13.7 13.7 0 1 0 -27.4 0M464.25 1100.65a13.7 13.7 0 1 0 27.4 0a13.7 13.7 0 1 0 -27.4 0M470.4 1100.65a13.7 13.7 0 1 0 27.4 0a13.7 13.7 0 1 0 -27.4 0M476.54 1100.65a13.7 13.7 0 1 0 27.4 0a13.7 13.7 0 1 0 -27.4 0M482.69 1100.65a13.7 13.7 0 1 0 27.4 0a13.7 13.7 0 1 0 -27.4 0M488.84 1100.65a13.7 13.7 0 1 0 27.4 0a13.7 13.7 0 1 0 -27.4 0M494.99 1100.65a13.7 13.7 0 1 0 27.4 0a13.7 13.7 0 1 0 -27.4 0M501.14 1100.65a13.7 13.7 0 1 0 27.4 0a13.7 13.7 0 1 0 -27.4 0M507.28 1100.65a13.7 13.7 0 1 0 27.4 0a13.7 13.7 0 1 0 -27.4 0M513.43 1100.65a13.7 13.7 0 1 0 27.4 0a13.7 13.7 0 1 0 -27.4 0M519.58 1100.65a13.7 13.7 0 1 0 27.4 0a13.7 13.7 0 1 0 -27.4 0M525.73 983.12a13.7 13.7 0 1 0 27.4 0a13.7 13.7 0 1 0 -27.4 0M531.88 983.12a13.7 13.7 0 1 0 27.4 0a13.7 13.7 0 1 0 -27.4 0M538.02 983.12a13.7 13.7 0 1 0 27.4 0a13.7 13.7 0 1 0 -27.4 0M544.17 983.12a13.7 13.7 0 1 0 27.4 0a13.7 13.7 0 1 0 -27.4 0M550.32 983.12a13.7 13.7 0 1 0 27.4 0a13.7 13.7 0 1 0 -27.4 0M556.47 983.12a13.7 13.7 0 1 0 27.4 0a13.7 13.7 0 1 0 -27.4 0M562.62 983.12a13.7 13.7 0 1 0 27.4 0a13.7 13.7 0 1 0 -27.4 0M568.76 983.12a13.7 13.7 0 1 0 27.4 0a13.7 13.7 0 1 0 -27.4 0M574.91 983.12a13.7 13.7 0 1 0 27.4 0a13.7 13.7 0 1 0 -27.4 0M581.06 983.12a13.7 13.7 0 1 0 27.4 0a13.7 13.7 0 1 0 -27.4 0M587.21 983.12a13.7 13.7 0 1 0 27.4 0a13.7 13.7 0 1 0 -27.4 0M593.36 983.12a13.7 13.7 0 1 0 27.4 0a13.7 13.7 0 1 0 -27.4 0M599.5 983.12a13.7 13.7 0 1 0 27.4 0a13.7 13.7 0 1 0 -27.4 0M605.65 983.12a13.7 13.7 0 1 0 27.4 0a13.7 13.7 0 1 0 -27.4 0M611.8 983.12a13.7 13.7 0 1 0 27.4 0a13.7 13.7 0 1 0 -27.4 0M617.95 983.12a13.7 13.7 0 1 0 27.4 0a13.7 13.7 0 1 0 -27.4 0M624.1 983.12a13.7 13.7 0 1 0 27.4 0a13.7 13.7 0 1 0 -27.4 0M630.24 983.12a13.7 13.7 0 1 0 27.4 0a13.7 13.7 0 1 0 -27.4 0M636.39 983.12a13.7 13.7 0 1 0 27.4 0a13.7 13.7 0 1 0 -27.4 0M642.54 983.12a13.7 13.7 0 1 0 27.4 0a13.7 13.7 0 1 0 -27.4 0M648.69 865.6a13.7 13.7 0 1 0 27.4 0a13.7 13.7 0 1 0 -27.4 0M654.84 865.6a13.7 13.7 0 1 0 27.4 0a13.7 13.7 0 1 0 -27.4 0M660.98 865.6a13.7 13.7 0 1 0 27.4 0a13.7 13.7 0 1 0 -27.4 0M667.13 865.6a13.7 13.7 0 1 0 27.4 0a13.7 13.7 0 1 0 -27.4 0M673.28 865.6a13.7 13.7 0 1 0 27.4 0a13.7 13.7 0 1 0 -27.4 0M679.43 865.6a13.7 13.7 0 1 0 27.4 0a13.7 13.7 0 1 0 -27.4 0M685.58 865.6a13.7 13.7 0 1 0 27.4 0a13.7 13.7 0 1 0 -27.4 0M691.72 865.6a13.7 13.7 0 1 0 27.4 0a13.7 13.7 0 1 0 -27.4 0M697.87 865.6a13.7 13.7 0 1 0 27.4 0a13.7 13.7 0 1 0 -27.4 0M704.02 865.6a13.7 13.7 0 1 0 27.4 0a13.7 13.7 0 1 0 -27.4 0M710.17 865.6a13.7 13.7 0 1 0 27.4 0a13.7 13.7 0 1 0 -27.4 0M716.32 865.6a13.7 13.7 0 1 0 27.4 0a13.7 13.7 0 1 0 -27.4 0M722.46 865.6a13.7 13.7 0 1 0 27.4 0a13.7 13.7 0 1 0 -27.4 0M728.61 865.6a13.7 13.7 0 1 0 27.4 0a13.7 13.7 0 1 0 -27.4 0M734.76 865.6a13.7 13.7 0 1 0 27.4 0a13.7 13.7 0 1 0 -27.4 0M740.91 865.6a13.7 13.7 0 1 0 27.4 0a13.7 13.7 0 1 0 -27.4 0M747.06 865.6a13.7 13.7 0 1 0 27.4 0a13.7 13.7 0 1 0 -27.4 0M753.2 865.6a13.7 13.7 0 1 0 27.4 0a13.7 13.7 0 1 0 -27.4 0M759.35 865.6a13.7 13.7 0 1 0 27.4 0a13.7 13.7 0 1 0 -27.4 0M765.5 865.6a13.7 13.7 0 1 0 27.4 0a13.7 13.7 0 1 0 -27.4 0M771.65 748.08a13.7 13.7 0 1 0 27.4 0a13.7 13.7 0 1 0 -27.4 0M777.8 748.08a13.7 13.7 0 1 0 27.4 0a13.7 13.7 0 1 0 -27.4 0M783.94 748.08a13.7 13.7 0 1 0 27.4 0a13.7 13.7 0 1 0 -27.4 0M790.09 748.08a13.7 13.7 0 1 0 27.4 0a13.7 13.7 0 1 0 -27.4 0M796.24 748.08a13.7 13.7 0 1 0 27.4 0a13.7 13.7 0 1 0 -27.4 0M802.39 748.08a13.7 13.7 0 1 0 27.4 0a13.7 13.7 0 1 0 -27.4 0M808.54 748.08a13.7 13.7 0 1 0 27.4 0a13.7 13.7 0 1 0 -27.4 0M814.68 748.08a13.7 13.7 0 1 0 27.4 0a13.7 13.7 0 1 0 -27.4 0M820.83 748.08a13.7 13.7 0 1 0 27.4 0a13.7 13.7 0 1 0 -27.4 0M826.98 748.08a13.7 13.7 0 1 0 27.4 0a13.7 13.7 0 1 0 -27.4 0M833.13 748.08a13.7 13.7 0 1 0 27.4 0a13.7 13.7 0 1 0 -27.4 0M839.28 983.12a13.7 13.7 0 1 0 27.4 0a13.7 13.7 0 1 0 -27.4 0M845.42 748.08a13.7 13.7 0 1 0 27.4 0a13.7 13.7 0 1 0 -27.4 0M851.57 748.08a13.7 13.7 0 1 0 27.4 0a13.7 13.7 0 1 0 -27.4 0M857.72 748.08a13.7 13.7 0 1 0 27.4 0a13.7 13.7 0 1 0 -27.4 0M863.87 748.08a13.7 13.7 0 1 0 27.4 0a13.7 13.7 0 1 0 -27.4 0M870.02 748.08a13.7 13.7 0 1 0 27.4 0a13.7 13.7 0 1 0 -27.4 0M876.16 748.08a13.7 13.7 0 1 0 27.4 0a13.7 13.7 0 1 0 -27.4 0M882.31 748.08a13.7 13.7 0 1 0 27.4 0a13.7 13.7 0 1 0 -27.4 0M888.46 748.08a13.7 13.7 0 1 0 27.4 0a13.7 13.7 0 1 0 -27.4 0M894.61 983.12a13.7 13.7 0 1 0 27.4 0a13.7 13.7 0 1 0 -27.4 0M900.76 630.55a13.7 13.7 0 1 0 27.4 0a13.7 13.7 0 1 0 -27.4 0M906.9 630.55a13.7 13.7 0 1 0 27.4 0a13.7 13.7 0 1 0 -27.4 0M913.05 630.55a13.7 13.7 0 1 0 27.4 0a13.7 13.7 0 1 0 -27.4 0M919.2 630.55a13.7 13.7 0 1 0 27.4 0a13.7 13.7 0 1 0 -27.4 0M925.35 630.55a13.7 13.7 0 1 0 27.4 0a13.7 13.7 0 1 0 -27.4 0M931.5 630.55a13.7 13.7 0 1 0 27.4 0a13.7 13.7 0 1 0 -27.4 0M937.64 630.55a13.7 13.7 0 1 0 27.4 0a13.7 13.7 0 1 0 -27.4 0M943.79 630.55a13.7 13.7 0 1 0 27.4 0a13.7 13.7 0 1 0 -27.4 0M949.94 630.55a13.7 13.7 0 1 0 27.4 0a13.7 13.7 0 1 0 -27.4 0M956.09 630.55a13.7 13.7 0 1 0 27.4 0a13.7 13.7 0 1 0 -27.4 0M962.24 983.12a13.7 13.7 0 1 0 27.4 0a13.7 13.7 0 1 0 -27.4 0M968.38 630.55a13.7 13.7 0 1 0 27.4 0a13.7 13.7 0 1 0 -27.4 0M974.53 630.55a13.7 13.7 0 1 0 27.4 0a13.7 13.7 0 1 0 -27.4 0M980.68 630.55a13.7 13.7 0 1 0 27.4 0a13.7 13.7 0 1 0 -27.4 0M986.83 630.55a13.7 13.7 0 1 0 27.4 0a13.7 13.7 0 1 0 -27.4 0M992.98 630.55a13.7 13.7 0 1 0 27.4 0a13.7 13.7 0 1 0 -27.4 0M999.12 630.55a13.7 13.7 0 1 0 27.4 0a13.7 13.7 0 1 0 -27.4 0M1005.27 630.55a13.7 13.7 0 1 0 27.4 0a13.7 13.7 0 1 0 -27.4 0M1011.42 630.55a13.7 13.7 0 1 0 27.4 0a13.7 13.7 0 1 0 -27.4 0M1017.57 513.02a13.7 13.7 0 1 0 27.4 0a13.7 13.7 0 1 0 -27.4 0M1023.72 513.02a13.7 13.7 0 1 0 27.4 0a13.7 13.7 0 1 0 -27.4 0M1029.86 513.02a13.7 13.7 0 1 0 27.4 0a13.7 13.7 0 1 0 -27.4 0M1036.01 513.02a13.7 13.7 0 1 0 27.4 0a13.7 13.7 0 1 0 -27.4 0M1042.16 513.02a13.7 13.7 0 1 0 27.4 0a13.7 13.7 0 1 0 -27.4 0M1048.31 513.02a13.7 13.7 0 1 0 27.4 0a13.7 13.7 0 1 0 -27.4 0M1054.46 513.02a13.7 13.7 0 1 0 27.4 0a13.7 13.7 0 1 0 -27.4 0M1060.6 513.02a13.7 13.7 0 1 0 27.4 0a13.7 13.7 0 1 0 -27.4 0M1066.75 513.02a13.7 13.7 0 1 0 27.4 0a13.7 13.7 0 1 0 -27.4 0M1072.9 513.02a13.7 13.7 0 1 0 27.4 0a13.7 13.7 0 1 0 -27.4 0M1079.05 513.02a13.7 13.7 0 1 0 27.4 0a13.7 13.7 0 1 0 -27.4 0M1085.2 513.02a13.7 13.7 0 1 0 27.4 0a13.7 13.7 0 1 0 -27.4 0M1091.34 513.02a13.7 13.7 0 1 0 27.4 0a13.7 13.7 0 1 0 -27.4 0M1097.49 513.02a13.7 13.7 0 1 0 27.4 0a13.7 13.7 0 1 0 -27.4 0M1103.64 513.02a13.7 13.7 0 1 0 27.4 0a13.7 13.7 0 1 0 -27.4 0M1109.79 513.02a13.7 13.7 0 1 0 27.4 0a13.7 13.7 0 1 0 -27.4 0M1115.94 513.02a13.7 13.7 0 1 0 27.4 0a13.7 13.7 0 1 0 -27.4 0M1122.08 513.02a13.7 13.7 0 1 0 27.4 0a13.7 13.7 0 1 0 -27.4 0M1128.23 513.02a13.7 13.7 0 1 0 27.4 0a13.7 13.7 0 1 0 -27.4 0M1134.38 513.02a13.7 13.7 0 1 0 27.4 0a13.7 13.7 0 1 0 -27.4 0M1140.53 395.5a13.7 13.7 0 1 0 27.4 0a13.7 13.7 0 1 0 -27.4 0M1146.68 983.12a13.7 13.7 0 1 0 27.4 0a13.7 13.7 0 1 0 -27.4 0M1152.82 395.5a13.7 13.7 0 1 0 27.4 0a13.7 13.7 0 1 0 -27.4 0M1158.97 395.5a13.7 13.7 0 1 0 27.4 0a13.7 13.7 0 1 0 -27.4 0M1165.12 395.5a13.7 13.7 0 1 0 27.4 0a13.7 13.7 0 1 0 -27.4 0M1171.27 395.5a13.7 13.7 0 1 0 27.4 0a13.7 13.7 0 1 0 -27.4 0M1177.42 395.5a13.7 13.7 0 1 0 27.4 0a13.7 13.7 0 1 0 -27.4 0M1183.56 395.5a13.7 13.7 0 1 0 27.4 0a13.7 13.7 0 1 0 -27.4 0M1189.71 395.5a13.7 13.7 0 1 0 27.4 0a13.7 13.7 0 1 0 -27.4 0M1195.86 395.5a13.7 13.7 0 1 0 27.4 0a13.7 13.7 0 1 0 -27.4 0M1202.01 395.5a13.7 13.7 0 1 0 27.4 0a13.7 13.7 0 1 0 -27.4 0M1208.16 395.5a13.7 13.7 0 1 0 27.4 0a13.7 13.7 0 1 0 -27.4 0M1214.3 395.5a13.7 13.7 0 1 0 27.4 0a13.7 13.7 0 1 0 -27.4 0M1220.45 395.5a13.7 13.7 0 1 0 27.4 0a13.7 13.7 0 1 0 -27.4 0M1226.6 395.5a13.7 13.7 0 1 0 27.4 0a13.7 13.7 0 1 0 -27.4 0M1232.75 395.5a13.7 13.7 0 1 0 27.4 0a13.7 13.7 0 1 0 -27.4 0M1238.9 395.5a13.7 13.7 0 1 0 27.4 0a13.7 13.7 0 1 0 -27.4 0M1245.04 395.5a13.7 13.7 0 1 0 27.4 0a13.7 13.7 0 1 0 -27.4 0M1251.19 395.5a13.7 13.7 0 1 0 27.4 0a13.7 13.7 0 1 0 -27.4 0M1257.34 395.5a13.7 13.7 0 1 0 27.4 0a13.7 13.7 0 1 0 -27.4 0M1263.49 1100.65a13.7 13.7 0 1 0 27.4 0a13.7 13.7 0 1 0 -27.4 0M1269.64 277.97a13.7 13.7 0 1 0 27.4 0a13.7 13.7 0 1 0 -27.4 0M1275.78 277.97a13.7 13.7 0 1 0 27.4 0a13.7 13.7 0 1 0 -27.4 0M1281.93 1100.65a13.7 13.7 0 1 0 27.4 0a13.7 13.7 0 1 0 -27.4 0M1288.08 1100.65a13.7 13.7 0 1 0 27.4 0a13.7 13.7 0 1 0 -27.4 0M1294.23 277.97a13.7 13.7 0 1 0 27.4 0a13.7 13.7 0 1 0 -27.4 0M1300.38 277.97a13.7 13.7 0 1 0 27.4 0a13.7 13.7 0 1 0 -27.4 0M1306.52 1100.65a13.7 13.7 0 1 0 27.4 0a13.7 13.7 0 1 0 -27.4 0M1312.67 1100.65a13.7 13.7 0 1 0 27.4 0a13.7 13.7 0 1 0 -27.4 0M1318.82 277.97a13.7 13.7 0 1 0 27.4 0a13.7 13.7 0 1 0 -27.4 0M1324.97 277.97a13.7 13.7 0 1 0 27.4 0a13.7 13.7 0 1 0 -27.4 0M1331.12 277.97a13.7 13.7 0 1 0 27.4 0a13.7 13.7 0 1 0 -27.4 0M1337.26 277.97a13.7 13.7 0 1 0 27.4 0a13.7 13.7 0 1 0 -27.4 0M1343.41 277.97a13.7 13.7 0 1 0 27.4 0a13.7 13.7 0 1 0 -27.4 0M1349.56 277.97a13.7 13.7 0 1 0 27.4 0a13.7 13.7 0 1 0 -27.4 0M1355.71 1100.65a13.7 13.7 0 1 0 27.4 0a13.7 13.7 0 1 0 -27.4 0M1361.86 277.97a13.7 13.7 0 1 0 27.4 0a13.7 13.7 0 1 0 -27.4 0M1368 277.97a13.7 13.7 0 1 0 27.4 0a13.7 13.7 0 1 0 -27.4 0M1374.15 277.97a13.7 13.7 0 1 0 27.4 0a13.7 13.7 0 1 0 -27.4 0M1380.3 277.97a13.7 13.7 0 1 0 27.4 0a13.7 13.7 0 1 0 -27.4 0M1386.45 160.45a13.7 13.7 0 1 0 27.4 0a13.7 13.7 0 1 0 -27.4 0M1392.6 160.45a13.7 13.7 0 1 0 27.4 0a13.7 13.7 0 1 0 -27.4 0M1398.74 160.45a13.7 13.7 0 1 0 27.4 0a13.7 13.7 0 1 0 -27.4 0M1404.89 160.45a13.7 13.7 0 1 0 27.4 0a13.7 13.7 0 1 0 -27.4 0M1411.04 160.45a13.7 13.7 0 1 0 27.4 0a13.7 13.7 0 1 0 -27.4 0M1417.19 160.45a13.7 13.7 0 1 0 27.4 0a13.7 13.7 0 1 0 -27.4 0M1423.34 160.45a13.7 13.7 0 1 0 27.4 0a13.7 13.7 0 1 0 -27.4 0M1429.48 160.45a13.7 13.7 0 1 0 27.4 0a13.7 13.7 0 1 0 -27.4 0M1435.63 160.45a13.7 13.7 0 1 0 27.4 0a13.7 13.7 0 1 0 -27.4 0M1441.78 160.45a13.7 13.7 0 1 0 27.4 0a13.7 13.7 0 1 0 -27.4 0M1447.93 160.45a13.7 13.7 0 1 0 27.4 0a13.7 13.7 0 1 0 -27.4 0M1454.08 160.45a13.7 13.7 0 1 0 27.4 0a13.7 13.7 0 1 0 -27.4 0M1460.22 160.45a13.7 13.7 0 1 0 27.4 0a13.7 13.7 0 1 0 -27.4 0M1466.37 160.45a13.7 13.7 0 1 0 27.4 0a13.7 13.7 0 1 0 -27.4 0M1472.52 160.45a13.7 13.7 0 1 0 27.4 0a13.7 13.7 0 1 0 -27.4 0M1478.67 160.45a13.7 13.7 0 1 0 27.4 0a13.7 13.7 0 1 0 -27.4 0M1484.82 160.45a13.7 13.7 0 1 0 27.4 0a13.7 13.7 0 1 0 -27.4 0M1490.96 160.45a13.7 13.7 0 1 0 27.4 0a13.7 13.7 0 1 0 -27.4 0M1497.11 160.45a13.7 13.7 0 1 0 27.4 0a13.7 13.7 0 1 0 -27.4 0M1503.26 513.02a13.7 13.7 0 1 0 27.4 0a13.7 13.7 0 1 0 -27.4 0" stroke="#00A0FF" stroke-width="5.0" fill="none"/>
<g font-size="57" fill="#262626"><text class="k" x="164.4" y="1407.7" text-anchor="middle">0</text><text class="k" x="471.8" y="1407.7" text-anchor="middle">50</text><text class="k" x="779.2" y="1407.7" text-anchor="middle">100</text><text class="k" x="1086.6" y="1407.7" text-anchor="middle">150</text><text class="k" x="1394" y="1407.7" text-anchor="middle">200</text><text class="k" x="1701.4" y="1407.7" text-anchor="middle">250</text><text class="k" x="142.9" y="1356.2" text-anchor="end">1</text><text class="k" x="142.9" y="1238.67" text-anchor="end">2</text><text class="k" x="142.9" y="1121.15" text-anchor="end">3</text><text class="k" x="142.9" y="1003.62" text-anchor="end">4</text><text class="k" x="142.9" y="886.1" text-anchor="end">5</text><text class="k" x="142.9" y="768.58" text-anchor="end">6</text><text class="k" x="142.9" y="651.05" text-anchor="end">7</text><text class="k" x="142.9" y="533.52" text-anchor="end">8</text><text class="k" x="142.9" y="416" text-anchor="end">9</text><text class="k" x="142.9" y="298.47" text-anchor="end">10</text><text class="k" x="142.9" y="180.95" text-anchor="end">11</text></g>
<rect x="180.7" y="182" width="550.4" height="149.2" fill="#fff" stroke="#262626" stroke-width="2.1"/>
<path d="M210.7 222.7H351.9" stroke="#FF00FF" stroke-width="4.6"/>
<path d="M281.3 208.7v28 M271.8 213.2l19 19 M271.8 232.2l19 -19" stroke="#FF00FF" stroke-width="4.6" fill="none"/>
<path d="M210.7 290.5H351.9" stroke="#00A0FF" stroke-width="4.6"/>
<circle cx="281.3" cy="290.5" r="13.7" stroke="#00A0FF" stroke-width="5.0" fill="none"/>
<g font-size="51" fill="#000"><text class="k" x="364" y="240.8">True value</text><text class="k" x="364" y="308.6">Predicted value</text></g>
<g fill="#000" text-anchor="middle"><text x="935.4" y="79.6" font-size="59.5">Test set</text><text x="933.9" y="147.7" font-size="59.7">Accuracy =94.5455%</text></g>
<text class="k" x="932.9" y="1480.7" font-size="62.4" fill="#262626" text-anchor="middle">Prediction sample</text>
<text class="k" transform="translate(59.7 746.7) rotate(-90)" font-size="62.3" fill="#262626" text-anchor="middle">Forecast result</text></g>
<rect x="0" y="500" width="25" height="500" fill="#fff"/>
<g font-weight="bold"><g stroke="#262626" stroke-opacity="0.15" stroke-width="2" fill="none"><path d="M479.36 1767.9V2936.3"/><path d="M786.82 1767.9V2936.3"/><path d="M1094.28 1767.9V2936.3"/><path d="M1401.74 1767.9V2936.3"/><path d="M171.9 2819.46H1709.2"/><path d="M171.9 2702.62H1709.2"/><path d="M171.9 2585.78H1709.2"/><path d="M171.9 2468.94H1709.2"/><path d="M171.9 2352.1H1709.2"/><path d="M171.9 2235.26H1709.2"/><path d="M171.9 2118.42H1709.2"/><path d="M171.9 2001.58H1709.2"/><path d="M171.9 1884.74H1709.2"/></g>
<path d="M479.36 2936.3v-16M479.36 1767.9v16M786.82 2936.3v-16M786.82 1767.9v16M1094.28 2936.3v-16M1094.28 1767.9v16M1401.74 2936.3v-16M1401.74 1767.9v16M171.9 2819.46h16M1709.2 2819.46h-16M171.9 2702.62h16M1709.2 2702.62h-16M171.9 2585.78h16M1709.2 2585.78h-16M171.9 2468.94h16M1709.2 2468.94h-16M171.9 2352.1h16M1709.2 2352.1h-16M171.9 2235.26h16M1709.2 2235.26h-16M171.9 2118.42h16M1709.2 2118.42h-16M171.9 2001.58h16M1709.2 2001.58h-16M171.9 1884.74h16M1709.2 1884.74h-16" stroke="#111111" stroke-width="2.3" fill="none"/>
<rect x="171.9" y="1767.9" width="1537.3" height="1168.4" stroke="#111111" stroke-width="2.3" fill="none"/>
<polyline points="178.05,2936.3 184.2,2936.3 190.35,2936.3 196.5,2936.3 202.65,2936.3 208.8,2936.3 214.94,2936.3 221.09,2936.3 227.24,2936.3 233.39,2936.3 239.54,2936.3 245.69,2936.3 251.84,2936.3 257.99,2936.3 264.14,2936.3 270.29,2936.3 276.44,2936.3 282.59,2936.3 288.73,2936.3 294.88,2936.3 301.03,2819.46 307.18,2819.46 313.33,2819.46 319.48,2819.46 325.63,2819.46 331.78,2819.46 337.93,2819.46 344.08,2819.46 350.23,2819.46 356.38,2819.46 362.53,2819.46 368.67,2819.46 374.82,2819.46 380.97,2819.46 387.12,2819.46 393.27,2819.46 399.42,2819.46 405.57,2819.46 411.72,2819.46 417.87,2819.46 424.02,2702.62 430.17,2702.62 436.32,2702.62 442.46,2702.62 448.61,2702.62 454.76,2702.62 460.91,2702.62 467.06,2702.62 473.21,2702.62 479.36,2702.62 485.51,2702.62 491.66,2702.62 497.81,2702.62 503.96,2702.62 510.11,2702.62 516.26,2702.62 522.4,2702.62 528.55,2702.62 534.7,2702.62 540.85,2702.62 547,2585.78 553.15,2585.78 559.3,2585.78 565.45,2585.78 571.6,2585.78 577.75,2585.78 583.9,2585.78 590.05,2585.78 596.19,2585.78 602.34,2585.78 608.49,2585.78 614.64,2585.78 620.79,2585.78 626.94,2585.78 633.09,2585.78 639.24,2585.78 645.39,2585.78 651.54,2585.78 657.69,2585.78 663.84,2585.78 669.99,2468.94 676.13,2468.94 682.28,2468.94 688.43,2468.94 694.58,2468.94 700.73,2468.94 706.88,2468.94 713.03,2468.94 719.18,2468.94 725.33,2468.94 731.48,2468.94 737.63,2468.94 743.78,2468.94 749.92,2468.94 756.07,2468.94 762.22,2468.94 768.37,2468.94 774.52,2468.94 780.67,2468.94 786.82,2468.94 792.97,2352.1 799.12,2352.1 805.27,2352.1 811.42,2352.1 817.57,2352.1 823.72,2352.1 829.86,2352.1 836.01,2352.1 842.16,2352.1 848.31,2352.1 854.46,2352.1 860.61,2352.1 866.76,2352.1 872.91,2352.1 879.06,2352.1 885.21,2352.1 891.36,2352.1 897.51,2352.1 903.65,2352.1 909.8,2352.1 915.95,2235.26 922.1,2235.26 928.25,2235.26 934.4,2235.26 940.55,2235.26 946.7,2235.26 952.85,2235.26 959,2235.26 965.15,2235.26 971.3,2235.26 977.45,2235.26 983.59,2235.26 989.74,2235.26 995.89,2235.26 1002.04,2235.26 1008.19,2235.26 1014.34,2235.26 1020.49,2235.26 1026.64,2235.26 1032.79,2235.26 1038.94,2118.42 1045.09,2118.42 1051.24,2118.42 1057.38,2118.42 1063.53,2118.42 1069.68,2118.42 1075.83,2118.42 1081.98,2118.42 1088.13,2118.42 1094.28,2118.42 1100.43,2118.42 1106.58,2118.42 1112.73,2118.42 1118.88,2118.42 1125.03,2118.42 1131.18,2118.42 1137.32,2118.42 1143.47,2118.42 1149.62,2118.42 1155.77,2118.42 1161.92,2001.58 1168.07,2001.58 1174.22,2001.58 1180.37,2001.58 1186.52,2001.58 1192.67,2001.58 1198.82,2001.58 1204.97,2001.58 1211.11,2001.58 1217.26,2001.58 1223.41,2001.58 1229.56,2001.58 1235.71,2001.58 1241.86,2001.58 1248.01,2001.58 1254.16,2001.58 1260.31,2001.58 1266.46,2001.58 1272.61,2001.58 1278.76,2001.58 1284.91,1884.74 1291.05,1884.74 1297.2,1884.74 1303.35,1884.74 1309.5,1884.74 1315.65,1884.74 1321.8,1884.74 1327.95,1884.74 1334.1,1884.74 1340.25,1884.74 1346.4,1884.74 1352.55,1884.74 1358.7,1884.74 1364.84,1884.74 1370.99,1884.74 1377.14,1884.74 1383.29,1884.74 1389.44,1884.74 1395.59,1884.74 1401.74,1884.74 1407.89,1767.9 1414.04,1767.9 1420.19,1767.9 1426.34,1767.9 1432.49,1767.9 1438.64,1767.9 1444.78,1767.9 1450.93,1767.9 1457.08,1767.9 1463.23,1767.9 1469.38,1767.9 1475.53,1767.9 1481.68,1767.9 1487.83,1767.9 1493.98,1767.9 1500.13,1767.9 1506.28,1767.9 1512.43,1767.9 1518.57,1767.9 1524.72,1767.9" stroke="#FF00FF" stroke-width="4.6" fill="none" stroke-linejoin="round"/>
<path d="M178.05 2922.3v28 M164.05 2936.3h28 M168.55 2926.8l19 19 M168.55 2945.8l19 -19 M184.2 2922.3v28 M170.2 2936.3h28 M174.7 2926.8l19 19 M174.7 2945.8l19 -19 M190.35 2922.3v28 M176.35 2936.3h28 M180.85 2926.8l19 19 M180.85 2945.8l19 -19 M196.5 2922.3v28 M182.5 2936.3h28 M187 2926.8l19 19 M187 2945.8l19 -19 M202.65 2922.3v28 M188.65 2936.3h28 M193.15 2926.8l19 19 M193.15 2945.8l19 -19 M208.8 2922.3v28 M194.8 2936.3h28 M199.3 2926.8l19 19 M199.3 2945.8l19 -19 M214.94 2922.3v28 M200.94 2936.3h28 M205.44 2926.8l19 19 M205.44 2945.8l19 -19 M221.09 2922.3v28 M207.09 2936.3h28 M211.59 2926.8l19 19 M211.59 2945.8l19 -19 M227.24 2922.3v28 M213.24 2936.3h28 M217.74 2926.8l19 19 M217.74 2945.8l19 -19 M233.39 2922.3v28 M219.39 2936.3h28 M223.89 2926.8l19 19 M223.89 2945.8l19 -19 M239.54 2922.3v28 M225.54 2936.3h28 M230.04 2926.8l19 19 M230.04 2945.8l19 -19 M245.69 2922.3v28 M231.69 2936.3h28 M236.19 2926.8l19 19 M236.19 2945.8l19 -19 M251.84 2922.3v28 M237.84 2936.3h28 M242.34 2926.8l19 19 M242.34 2945.8l19 -19 M257.99 2922.3v28 M243.99 2936.3h28 M248.49 2926.8l19 19 M248.49 2945.8l19 -19 M264.14 2922.3v28 M250.14 2936.3h28 M254.64 2926.8l19 19 M254.64 2945.8l19 -19 M270.29 2922.3v28 M256.29 2936.3h28 M260.79 2926.8l19 19 M260.79 2945.8l19 -19 M276.44 2922.3v28 M262.44 2936.3h28 M266.94 2926.8l19 19 M266.94 2945.8l19 -19 M282.59 2922.3v28 M268.59 2936.3h28 M273.09 2926.8l19 19 M273.09 2945.8l19 -19 M288.73 2922.3v28 M274.73 2936.3h28 M279.23 2926.8l19 19 M279.23 2945.8l19 -19 M294.88 2922.3v28 M280.88 2936.3h28 M285.38 2926.8l19 19 M285.38 2945.8l19 -19 M301.03 2805.46v28 M287.03 2819.46h28 M291.53 2809.96l19 19 M291.53 2828.96l19 -19 M307.18 2805.46v28 M293.18 2819.46h28 M297.68 2809.96l19 19 M297.68 2828.96l19 -19 M313.33 2805.46v28 M299.33 2819.46h28 M303.83 2809.96l19 19 M303.83 2828.96l19 -19 M319.48 2805.46v28 M305.48 2819.46h28 M309.98 2809.96l19 19 M309.98 2828.96l19 -19 M325.63 2805.46v28 M311.63 2819.46h28 M316.13 2809.96l19 19 M316.13 2828.96l19 -19 M331.78 2805.46v28 M317.78 2819.46h28 M322.28 2809.96l19 19 M322.28 2828.96l19 -19 M337.93 2805.46v28 M323.93 2819.46h28 M328.43 2809.96l19 19 M328.43 2828.96l19 -19 M344.08 2805.46v28 M330.08 2819.46h28 M334.58 2809.96l19 19 M334.58 2828.96l19 -19 M350.23 2805.46v28 M336.23 2819.46h28 M340.73 2809.96l19 19 M340.73 2828.96l19 -19 M356.38 2805.46v28 M342.38 2819.46h28 M346.88 2809.96l19 19 M346.88 2828.96l19 -19 M362.53 2805.46v28 M348.53 2819.46h28 M353.03 2809.96l19 19 M353.03 2828.96l19 -19 M368.67 2805.46v28 M354.67 2819.46h28 M359.17 2809.96l19 19 M359.17 2828.96l19 -19 M374.82 2805.46v28 M360.82 2819.46h28 M365.32 2809.96l19 19 M365.32 2828.96l19 -19 M380.97 2805.46v28 M366.97 2819.46h28 M371.47 2809.96l19 19 M371.47 2828.96l19 -19 M387.12 2805.46v28 M373.12 2819.46h28 M377.62 2809.96l19 19 M377.62 2828.96l19 -19 M393.27 2805.46v28 M379.27 2819.46h28 M383.77 2809.96l19 19 M383.77 2828.96l19 -19 M399.42 2805.46v28 M385.42 2819.46h28 M389.92 2809.96l19 19 M389.92 2828.96l19 -19 M405.57 2805.46v28 M391.57 2819.46h28 M396.07 2809.96l19 19 M396.07 2828.96l19 -19 M411.72 2805.46v28 M397.72 2819.46h28 M402.22 2809.96l19 19 M402.22 2828.96l19 -19 M417.87 2805.46v28 M403.87 2819.46h28 M408.37 2809.96l19 19 M408.37 2828.96l19 -19 M424.02 2688.62v28 M410.02 2702.62h28 M414.52 2693.12l19 19 M414.52 2712.12l19 -19 M430.17 2688.62v28 M416.17 2702.62h28 M420.67 2693.12l19 19 M420.67 2712.12l19 -19 M436.32 2688.62v28 M422.32 2702.62h28 M426.82 2693.12l19 19 M426.82 2712.12l19 -19 M442.46 2688.62v28 M428.46 2702.62h28 M432.96 2693.12l19 19 M432.96 2712.12l19 -19 M448.61 2688.62v28 M434.61 2702.62h28 M439.11 2693.12l19 19 M439.11 2712.12l19 -19 M454.76 2688.62v28 M440.76 2702.62h28 M445.26 2693.12l19 19 M445.26 2712.12l19 -19 M460.91 2688.62v28 M446.91 2702.62h28 M451.41 2693.12l19 19 M451.41 2712.12l19 -19 M467.06 2688.62v28 M453.06 2702.62h28 M457.56 2693.12l19 19 M457.56 2712.12l19 -19 M473.21 2688.62v28 M459.21 2702.62h28 M463.71 2693.12l19 19 M463.71 2712.12l19 -19 M479.36 2688.62v28 M465.36 2702.62h28 M469.86 2693.12l19 19 M469.86 2712.12l19 -19 M485.51 2688.62v28 M471.51 2702.62h28 M476.01 2693.12l19 19 M476.01 2712.12l19 -19 M491.66 2688.62v28 M477.66 2702.62h28 M482.16 2693.12l19 19 M482.16 2712.12l19 -19 M497.81 2688.62v28 M483.81 2702.62h28 M488.31 2693.12l19 19 M488.31 2712.12l19 -19 M503.96 2688.62v28 M489.96 2702.62h28 M494.46 2693.12l19 19 M494.46 2712.12l19 -19 M510.11 2688.62v28 M496.11 2702.62h28 M500.61 2693.12l19 19 M500.61 2712.12l19 -19 M516.26 2688.62v28 M502.26 2702.62h28 M506.76 2693.12l19 19 M506.76 2712.12l19 -19 M522.4 2688.62v28 M508.4 2702.62h28 M512.9 2693.12l19 19 M512.9 2712.12l19 -19 M528.55 2688.62v28 M514.55 2702.62h28 M519.05 2693.12l19 19 M519.05 2712.12l19 -19 M534.7 2688.62v28 M520.7 2702.62h28 M525.2 2693.12l19 19 M525.2 2712.12l19 -19 M540.85 2688.62v28 M526.85 2702.62h28 M531.35 2693.12l19 19 M531.35 2712.12l19 -19 M547 2571.78v28 M533 2585.78h28 M537.5 2576.28l19 19 M537.5 2595.28l19 -19 M553.15 2571.78v28 M539.15 2585.78h28 M543.65 2576.28l19 19 M543.65 2595.28l19 -19 M559.3 2571.78v28 M545.3 2585.78h28 M549.8 2576.28l19 19 M549.8 2595.28l19 -19 M565.45 2571.78v28 M551.45 2585.78h28 M555.95 2576.28l19 19 M555.95 2595.28l19 -19 M571.6 2571.78v28 M557.6 2585.78h28 M562.1 2576.28l19 19 M562.1 2595.28l19 -19 M577.75 2571.78v28 M563.75 2585.78h28 M568.25 2576.28l19 19 M568.25 2595.28l19 -19 M583.9 2571.78v28 M569.9 2585.78h28 M574.4 2576.28l19 19 M574.4 2595.28l19 -19 M590.05 2571.78v28 M576.05 2585.78h28 M580.55 2576.28l19 19 M580.55 2595.28l19 -19 M596.19 2571.78v28 M582.19 2585.78h28 M586.69 2576.28l19 19 M586.69 2595.28l19 -19 M602.34 2571.78v28 M588.34 2585.78h28 M592.84 2576.28l19 19 M592.84 2595.28l19 -19 M608.49 2571.78v28 M594.49 2585.78h28 M598.99 2576.28l19 19 M598.99 2595.28l19 -19 M614.64 2571.78v28 M600.64 2585.78h28 M605.14 2576.28l19 19 M605.14 2595.28l19 -19 M620.79 2571.78v28 M606.79 2585.78h28 M611.29 2576.28l19 19 M611.29 2595.28l19 -19 M626.94 2571.78v28 M612.94 2585.78h28 M617.44 2576.28l19 19 M617.44 2595.28l19 -19 M633.09 2571.78v28 M619.09 2585.78h28 M623.59 2576.28l19 19 M623.59 2595.28l19 -19 M639.24 2571.78v28 M625.24 2585.78h28 M629.74 2576.28l19 19 M629.74 2595.28l19 -19 M645.39 2571.78v28 M631.39 2585.78h28 M635.89 2576.28l19 19 M635.89 2595.28l19 -19 M651.54 2571.78v28 M637.54 2585.78h28 M642.04 2576.28l19 19 M642.04 2595.28l19 -19 M657.69 2571.78v28 M643.69 2585.78h28 M648.19 2576.28l19 19 M648.19 2595.28l19 -19 M663.84 2571.78v28 M649.84 2585.78h28 M654.34 2576.28l19 19 M654.34 2595.28l19 -19 M669.99 2454.94v28 M655.99 2468.94h28 M660.49 2459.44l19 19 M660.49 2478.44l19 -19 M676.13 2454.94v28 M662.13 2468.94h28 M666.63 2459.44l19 19 M666.63 2478.44l19 -19 M682.28 2454.94v28 M668.28 2468.94h28 M672.78 2459.44l19 19 M672.78 2478.44l19 -19 M688.43 2454.94v28 M674.43 2468.94h28 M678.93 2459.44l19 19 M678.93 2478.44l19 -19 M694.58 2454.94v28 M680.58 2468.94h28 M685.08 2459.44l19 19 M685.08 2478.44l19 -19 M700.73 2454.94v28 M686.73 2468.94h28 M691.23 2459.44l19 19 M691.23 2478.44l19 -19 M706.88 2454.94v28 M692.88 2468.94h28 M697.38 2459.44l19 19 M697.38 2478.44l19 -19 M713.03 2454.94v28 M699.03 2468.94h28 M703.53 2459.44l19 19 M703.53 2478.44l19 -19 M719.18 2454.94v28 M705.18 2468.94h28 M709.68 2459.44l19 19 M709.68 2478.44l19 -19 M725.33 2454.94v28 M711.33 2468.94h28 M715.83 2459.44l19 19 M715.83 2478.44l19 -19 M731.48 2454.94v28 M717.48 2468.94h28 M721.98 2459.44l19 19 M721.98 2478.44l19 -19 M737.63 2454.94v28 M723.63 2468.94h28 M728.13 2459.44l19 19 M728.13 2478.44l19 -19 M743.78 2454.94v28 M729.78 2468.94h28 M734.28 2459.44l19 19 M734.28 2478.44l19 -19 M749.92 2454.94v28 M735.92 2468.94h28 M740.42 2459.44l19 19 M740.42 2478.44l19 -19 M756.07 2454.94v28 M742.07 2468.94h28 M746.57 2459.44l19 19 M746.57 2478.44l19 -19 M762.22 2454.94v28 M748.22 2468.94h28 M752.72 2459.44l19 19 M752.72 2478.44l19 -19 M768.37 2454.94v28 M754.37 2468.94h28 M758.87 2459.44l19 19 M758.87 2478.44l19 -19 M774.52 2454.94v28 M760.52 2468.94h28 M765.02 2459.44l19 19 M765.02 2478.44l19 -19 M780.67 2454.94v28 M766.67 2468.94h28 M771.17 2459.44l19 19 M771.17 2478.44l19 -19 M786.82 2454.94v28 M772.82 2468.94h28 M777.32 2459.44l19 19 M777.32 2478.44l19 -19 M792.97 2338.1v28 M778.97 2352.1h28 M783.47 2342.6l19 19 M783.47 2361.6l19 -19 M799.12 2338.1v28 M785.12 2352.1h28 M789.62 2342.6l19 19 M789.62 2361.6l19 -19 M805.27 2338.1v28 M791.27 2352.1h28 M795.77 2342.6l19 19 M795.77 2361.6l19 -19 M811.42 2338.1v28 M797.42 2352.1h28 M801.92 2342.6l19 19 M801.92 2361.6l19 -19 M817.57 2338.1v28 M803.57 2352.1h28 M808.07 2342.6l19 19 M808.07 2361.6l19 -19 M823.72 2338.1v28 M809.72 2352.1h28 M814.22 2342.6l19 19 M814.22 2361.6l19 -19 M829.86 2338.1v28 M815.86 2352.1h28 M820.36 2342.6l19 19 M820.36 2361.6l19 -19 M836.01 2338.1v28 M822.01 2352.1h28 M826.51 2342.6l19 19 M826.51 2361.6l19 -19 M842.16 2338.1v28 M828.16 2352.1h28 M832.66 2342.6l19 19 M832.66 2361.6l19 -19 M848.31 2338.1v28 M834.31 2352.1h28 M838.81 2342.6l19 19 M838.81 2361.6l19 -19 M854.46 2338.1v28 M840.46 2352.1h28 M844.96 2342.6l19 19 M844.96 2361.6l19 -19 M860.61 2338.1v28 M846.61 2352.1h28 M851.11 2342.6l19 19 M851.11 2361.6l19 -19 M866.76 2338.1v28 M852.76 2352.1h28 M857.26 2342.6l19 19 M857.26 2361.6l19 -19 M872.91 2338.1v28 M858.91 2352.1h28 M863.41 2342.6l19 19 M863.41 2361.6l19 -19 M879.06 2338.1v28 M865.06 2352.1h28 M869.56 2342.6l19 19 M869.56 2361.6l19 -19 M885.21 2338.1v28 M871.21 2352.1h28 M875.71 2342.6l19 19 M875.71 2361.6l19 -19 M891.36 2338.1v28 M877.36 2352.1h28 M881.86 2342.6l19 19 M881.86 2361.6l19 -19 M897.51 2338.1v28 M883.51 2352.1h28 M888.01 2342.6l19 19 M888.01 2361.6l19 -19 M903.65 2338.1v28 M889.65 2352.1h28 M894.15 2342.6l19 19 M894.15 2361.6l19 -19 M909.8 2338.1v28 M895.8 2352.1h28 M900.3 2342.6l19 19 M900.3 2361.6l19 -19 M915.95 2221.26v28 M901.95 2235.26h28 M906.45 2225.76l19 19 M906.45 2244.76l19 -19 M922.1 2221.26v28 M908.1 2235.26h28 M912.6 2225.76l19 19 M912.6 2244.76l19 -19 M928.25 2221.26v28 M914.25 2235.26h28 M918.75 2225.76l19 19 M918.75 2244.76l19 -19 M934.4 2221.26v28 M920.4 2235.26h28 M924.9 2225.76l19 19 M924.9 2244.76l19 -19 M940.55 2221.26v28 M926.55 2235.26h28 M931.05 2225.76l19 19 M931.05 2244.76l19 -19 M946.7 2221.26v28 M932.7 2235.26h28 M937.2 2225.76l19 19 M937.2 2244.76l19 -19 M952.85 2221.26v28 M938.85 2235.26h28 M943.35 2225.76l19 19 M943.35 2244.76l19 -19 M959 2221.26v28 M945 2235.26h28 M949.5 2225.76l19 19 M949.5 2244.76l19 -19 M965.15 2221.26v28 M951.15 2235.26h28 M955.65 2225.76l19 19 M955.65 2244.76l19 -19 M971.3 2221.26v28 M957.3 2235.26h28 M961.8 2225.76l19 19 M961.8 2244.76l19 -19 M977.45 2221.26v28 M963.45 2235.26h28 M967.95 2225.76l19 19 M967.95 2244.76l19 -19 M983.59 2221.26v28 M969.59 2235.26h28 M974.09 2225.76l19 19 M974.09 2244.76l19 -19 M989.74 2221.26v28 M975.74 2235.26h28 M980.24 2225.76l19 19 M980.24 2244.76l19 -19 M995.89 2221.26v28 M981.89 2235.26h28 M986.39 2225.76l19 19 M986.39 2244.76l19 -19 M1002.04 2221.26v28 M988.04 2235.26h28 M992.54 2225.76l19 19 M992.54 2244.76l19 -19 M1008.19 2221.26v28 M994.19 2235.26h28 M998.69 2225.76l19 19 M998.69 2244.76l19 -19 M1014.34 2221.26v28 M1000.34 2235.26h28 M1004.84 2225.76l19 19 M1004.84 2244.76l19 -19 M1020.49 2221.26v28 M1006.49 2235.26h28 M1010.99 2225.76l19 19 M1010.99 2244.76l19 -19 M1026.64 2221.26v28 M1012.64 2235.26h28 M1017.14 2225.76l19 19 M1017.14 2244.76l19 -19 M1032.79 2221.26v28 M1018.79 2235.26h28 M1023.29 2225.76l19 19 M1023.29 2244.76l19 -19 M1038.94 2104.42v28 M1024.94 2118.42h28 M1029.44 2108.92l19 19 M1029.44 2127.92l19 -19 M1045.09 2104.42v28 M1031.09 2118.42h28 M1035.59 2108.92l19 19 M1035.59 2127.92l19 -19 M1051.24 2104.42v28 M1037.24 2118.42h28 M1041.74 2108.92l19 19 M1041.74 2127.92l19 -19 M1057.38 2104.42v28 M1043.38 2118.42h28 M1047.88 2108.92l19 19 M1047.88 2127.92l19 -19 M1063.53 2104.42v28 M1049.53 2118.42h28 M1054.03 2108.92l19 19 M1054.03 2127.92l19 -19 M1069.68 2104.42v28 M1055.68 2118.42h28 M1060.18 2108.92l19 19 M1060.18 2127.92l19 -19 M1075.83 2104.42v28 M1061.83 2118.42h28 M1066.33 2108.92l19 19 M1066.33 2127.92l19 -19 M1081.98 2104.42v28 M1067.98 2118.42h28 M1072.48 2108.92l19 19 M1072.48 2127.92l19 -19 M1088.13 2104.42v28 M1074.13 2118.42h28 M1078.63 2108.92l19 19 M1078.63 2127.92l19 -19 M1094.28 2104.42v28 M1080.28 2118.42h28 M1084.78 2108.92l19 19 M1084.78 2127.92l19 -19 M1100.43 2104.42v28 M1086.43 2118.42h28 M1090.93 2108.92l19 19 M1090.93 2127.92l19 -19 M1106.58 2104.42v28 M1092.58 2118.42h28 M1097.08 2108.92l19 19 M1097.08 2127.92l19 -19 M1112.73 2104.42v28 M1098.73 2118.42h28 M1103.23 2108.92l19 19 M1103.23 2127.92l19 -19 M1118.88 2104.42v28 M1104.88 2118.42h28 M1109.38 2108.92l19 19 M1109.38 2127.92l19 -19 M1125.03 2104.42v28 M1111.03 2118.42h28 M1115.53 2108.92l19 19 M1115.53 2127.92l19 -19 M1131.18 2104.42v28 M1117.18 2118.42h28 M1121.68 2108.92l19 19 M1121.68 2127.92l19 -19 M1137.32 2104.42v28 M1123.32 2118.42h28 M1127.82 2108.92l19 19 M1127.82 2127.92l19 -19 M1143.47 2104.42v28 M1129.47 2118.42h28 M1133.97 2108.92l19 19 M1133.97 2127.92l19 -19 M1149.62 2104.42v28 M1135.62 2118.42h28 M1140.12 2108.92l19 19 M1140.12 2127.92l19 -19 M1155.77 2104.42v28 M1141.77 2118.42h28 M1146.27 2108.92l19 19 M1146.27 2127.92l19 -19 M1161.92 1987.58v28 M1147.92 2001.58h28 M1152.42 1992.08l19 19 M1152.42 2011.08l19 -19 M1168.07 1987.58v28 M1154.07 2001.58h28 M1158.57 1992.08l19 19 M1158.57 2011.08l19 -19 M1174.22 1987.58v28 M1160.22 2001.58h28 M1164.72 1992.08l19 19 M1164.72 2011.08l19 -19 M1180.37 1987.58v28 M1166.37 2001.58h28 M1170.87 1992.08l19 19 M1170.87 2011.08l19 -19 M1186.52 1987.58v28 M1172.52 2001.58h28 M1177.02 1992.08l19 19 M1177.02 2011.08l19 -19 M1192.67 1987.58v28 M1178.67 2001.58h28 M1183.17 1992.08l19 19 M1183.17 2011.08l19 -19 M1198.82 1987.58v28 M1184.82 2001.58h28 M1189.32 1992.08l19 19 M1189.32 2011.08l19 -19 M1204.97 1987.58v28 M1190.97 2001.58h28 M1195.47 1992.08l19 19 M1195.47 2011.08l19 -19 M1211.11 1987.58v28 M1197.11 2001.58h28 M1201.61 1992.08l19 19 M1201.61 2011.08l19 -19 M1217.26 1987.58v28 M1203.26 2001.58h28 M1207.76 1992.08l19 19 M1207.76 2011.08l19 -19 M1223.41 1987.58v28 M1209.41 2001.58h28 M1213.91 1992.08l19 19 M1213.91 2011.08l19 -19 M1229.56 1987.58v28 M1215.56 2001.58h28 M1220.06 1992.08l19 19 M1220.06 2011.08l19 -19 M1235.71 1987.58v28 M1221.71 2001.58h28 M1226.21 1992.08l19 19 M1226.21 2011.08l19 -19 M1241.86 1987.58v28 M1227.86 2001.58h28 M1232.36 1992.08l19 19 M1232.36 2011.08l19 -19 M1248.01 1987.58v28 M1234.01 2001.58h28 M1238.51 1992.08l19 19 M1238.51 2011.08l19 -19 M1254.16 1987.58v28 M1240.16 2001.58h28 M1244.66 1992.08l19 19 M1244.66 2011.08l19 -19 M1260.31 1987.58v28 M1246.31 2001.58h28 M1250.81 1992.08l19 19 M1250.81 2011.08l19 -19 M1266.46 1987.58v28 M1252.46 2001.58h28 M1256.96 1992.08l19 19 M1256.96 2011.08l19 -19 M1272.61 1987.58v28 M1258.61 2001.58h28 M1263.11 1992.08l19 19 M1263.11 2011.08l19 -19 M1278.76 1987.58v28 M1264.76 2001.58h28 M1269.26 1992.08l19 19 M1269.26 2011.08l19 -19 M1284.91 1870.74v28 M1270.91 1884.74h28 M1275.41 1875.24l19 19 M1275.41 1894.24l19 -19 M1291.05 1870.74v28 M1277.05 1884.74h28 M1281.55 1875.24l19 19 M1281.55 1894.24l19 -19 M1297.2 1870.74v28 M1283.2 1884.74h28 M1287.7 1875.24l19 19 M1287.7 1894.24l19 -19 M1303.35 1870.74v28 M1289.35 1884.74h28 M1293.85 1875.24l19 19 M1293.85 1894.24l19 -19 M1309.5 1870.74v28 M1295.5 1884.74h28 M1300 1875.24l19 19 M1300 1894.24l19 -19 M1315.65 1870.74v28 M1301.65 1884.74h28 M1306.15 1875.24l19 19 M1306.15 1894.24l19 -19 M1321.8 1870.74v28 M1307.8 1884.74h28 M1312.3 1875.24l19 19 M1312.3 1894.24l19 -19 M1327.95 1870.74v28 M1313.95 1884.74h28 M1318.45 1875.24l19 19 M1318.45 1894.24l19 -19 M1334.1 1870.74v28 M1320.1 1884.74h28 M1324.6 1875.24l19 19 M1324.6 1894.24l19 -19 M1340.25 1870.74v28 M1326.25 1884.74h28 M1330.75 1875.24l19 19 M1330.75 1894.24l19 -19 M1346.4 1870.74v28 M1332.4 1884.74h28 M1336.9 1875.24l19 19 M1336.9 1894.24l19 -19 M1352.55 1870.74v28 M1338.55 1884.74h28 M1343.05 1875.24l19 19 M1343.05 1894.24l19 -19 M1358.7 1870.74v28 M1344.7 1884.74h28 M1349.2 1875.24l19 19 M1349.2 1894.24l19 -19 M1364.84 1870.74v28 M1350.84 1884.74h28 M1355.34 1875.24l19 19 M1355.34 1894.24l19 -19 M1370.99 1870.74v28 M1356.99 1884.74h28 M1361.49 1875.24l19 19 M1361.49 1894.24l19 -19 M1377.14 1870.74v28 M1363.14 1884.74h28 M1367.64 1875.24l19 19 M1367.64 1894.24l19 -19 M1383.29 1870.74v28 M1369.29 1884.74h28 M1373.79 1875.24l19 19 M1373.79 1894.24l19 -19 M1389.44 1870.74v28 M1375.44 1884.74h28 M1379.94 1875.24l19 19 M1379.94 1894.24l19 -19 M1395.59 1870.74v28 M1381.59 1884.74h28 M1386.09 1875.24l19 19 M1386.09 1894.24l19 -19 M1401.74 1870.74v28 M1387.74 1884.74h28 M1392.24 1875.24l19 19 M1392.24 1894.24l19 -19 M1407.89 1753.9v28 M1393.89 1767.9h28 M1398.39 1758.4l19 19 M1398.39 1777.4l19 -19 M1414.04 1753.9v28 M1400.04 1767.9h28 M1404.54 1758.4l19 19 M1404.54 1777.4l19 -19 M1420.19 1753.9v28 M1406.19 1767.9h28 M1410.69 1758.4l19 19 M1410.69 1777.4l19 -19 M1426.34 1753.9v28 M1412.34 1767.9h28 M1416.84 1758.4l19 19 M1416.84 1777.4l19 -19 M1432.49 1753.9v28 M1418.49 1767.9h28 M1422.99 1758.4l19 19 M1422.99 1777.4l19 -19 M1438.64 1753.9v28 M1424.64 1767.9h28 M1429.14 1758.4l19 19 M1429.14 1777.4l19 -19 M1444.78 1753.9v28 M1430.78 1767.9h28 M1435.28 1758.4l19 19 M1435.28 1777.4l19 -19 M1450.93 1753.9v28 M1436.93 1767.9h28 M1441.43 1758.4l19 19 M1441.43 1777.4l19 -19 M1457.08 1753.9v28 M1443.08 1767.9h28 M1447.58 1758.4l19 19 M1447.58 1777.4l19 -19 M1463.23 1753.9v28 M1449.23 1767.9h28 M1453.73 1758.4l19 19 M1453.73 1777.4l19 -19 M1469.38 1753.9v28 M1455.38 1767.9h28 M1459.88 1758.4l19 19 M1459.88 1777.4l19 -19 M1475.53 1753.9v28 M1461.53 1767.9h28 M1466.03 1758.4l19 19 M1466.03 1777.4l19 -19 M1481.68 1753.9v28 M1467.68 1767.9h28 M1472.18 1758.4l19 19 M1472.18 1777.4l19 -19 M1487.83 1753.9v28 M1473.83 1767.9h28 M1478.33 1758.4l19 19 M1478.33 1777.4l19 -19 M1493.98 1753.9v28 M1479.98 1767.9h28 M1484.48 1758.4l19 19 M1484.48 1777.4l19 -19 M1500.13 1753.9v28 M1486.13 1767.9h28 M1490.63 1758.4l19 19 M1490.63 1777.4l19 -19 M1506.28 1753.9v28 M1492.28 1767.9h28 M1496.78 1758.4l19 19 M1496.78 1777.4l19 -19 M1512.43 1753.9v28 M1498.43 1767.9h28 M1502.93 1758.4l19 19 M1502.93 1777.4l19 -19 M1518.57 1753.9v28 M1504.57 1767.9h28 M1509.07 1758.4l19 19 M1509.07 1777.4l19 -19 M1524.72 1753.9v28 M1510.72 1767.9h28 M1515.22 1758.4l19 19 M1515.22 1777.4l19 -19" stroke="#FF00FF" stroke-width="4.6" fill="none"/>
<polyline points="178.05,2936.3 184.2,2936.3 190.35,2936.3 196.5,2936.3 202.65,2936.3 208.8,2936.3 214.94,2936.3 221.09,2936.3 227.24,2936.3 233.39,2936.3 239.54,2936.3 245.69,2936.3 251.84,2936.3 257.99,2936.3 264.14,2936.3 270.29,2936.3 276.44,2936.3 282.59,2936.3 288.73,2936.3 294.88,2936.3 301.03,2819.46 307.18,2819.46 313.33,2819.46 319.48,2819.46 325.63,2819.46 331.78,2819.46 337.93,2819.46 344.08,2819.46 350.23,2819.46 356.38,2819.46 362.53,2819.46 368.67,2819.46 374.82,2819.46 380.97,2819.46 387.12,2819.46 393.27,2819.46 399.42,2819.46 405.57,2819.46 411.72,2819.46 417.87,2819.46 424.02,1884.74 430.17,1884.74 436.32,1884.74 442.46,1884.74 448.61,1884.74 454.76,1884.74 460.91,1884.74 467.06,1884.74 473.21,1884.74 479.36,1884.74 485.51,1884.74 491.66,1884.74 497.81,1884.74 503.96,1884.74 510.11,1884.74 516.26,1884.74 522.4,1884.74 528.55,1884.74 534.7,1884.74 540.85,1884.74 547,2585.78 553.15,2585.78 559.3,2585.78 565.45,2585.78 571.6,2585.78 577.75,2585.78 583.9,2585.78 590.05,2585.78 596.19,2585.78 602.34,2585.78 608.49,2585.78 614.64,2585.78 620.79,2585.78 626.94,2585.78 633.09,2585.78 639.24,2585.78 645.39,2585.78 651.54,2585.78 657.69,2585.78 663.84,2585.78 669.99,2468.94 676.13,2468.94 682.28,2468.94 688.43,2468.94 694.58,2468.94 700.73,2468.94 706.88,2468.94 713.03,2468.94 719.18,2468.94 725.33,2468.94 731.48,2468.94 737.63,2468.94 743.78,2468.94 749.92,2468.94 756.07,2468.94 762.22,2468.94 768.37,2468.94 774.52,2819.46 780.67,2468.94 786.82,2468.94 792.97,2352.1 799.12,2352.1 805.27,2352.1 811.42,2352.1 817.57,2352.1 823.72,2352.1 829.86,2352.1 836.01,2352.1 842.16,2352.1 848.31,2352.1 854.46,2352.1 860.61,2352.1 866.76,2352.1 872.91,2352.1 879.06,2352.1 885.21,2352.1 891.36,2352.1 897.51,2352.1 903.65,2352.1 909.8,2352.1 915.95,2235.26 922.1,2585.78 928.25,2235.26 934.4,2235.26 940.55,2235.26 946.7,2235.26 952.85,2235.26 959,2235.26 965.15,2235.26 971.3,2235.26 977.45,2235.26 983.59,2235.26 989.74,2235.26 995.89,2235.26 1002.04,2235.26 1008.19,2235.26 1014.34,2235.26 1020.49,2235.26 1026.64,2235.26 1032.79,2585.78 1038.94,2118.42 1045.09,2118.42 1051.24,2118.42 1057.38,2118.42 1063.53,2118.42 1069.68,2118.42 1075.83,2118.42 1081.98,2118.42 1088.13,2118.42 1094.28,2118.42 1100.43,2118.42 1106.58,2118.42 1112.73,2118.42 1118.88,2118.42 1125.03,2118.42 1131.18,2118.42 1137.32,2118.42 1143.47,2118.42 1149.62,2118.42 1155.77,2118.42 1161.92,2001.58 1168.07,2001.58 1174.22,2001.58 1180.37,2001.58 1186.52,2001.58 1192.67,2001.58 1198.82,2001.58 1204.97,2001.58 1211.11,2001.58 1217.26,2001.58 1223.41,2001.58 1229.56,2001.58 1235.71,2001.58 1241.86,2585.78 1248.01,2001.58 1254.16,2001.58 1260.31,2001.58 1266.46,2001.58 1272.61,2001.58 1278.76,2001.58 1284.91,1884.74 1291.05,1884.74 1297.2,1884.74 1303.35,1884.74 1309.5,1884.74 1315.65,1884.74 1321.8,1884.74 1327.95,1884.74 1334.1,1884.74 1340.25,1884.74 1346.4,1884.74 1352.55,1884.74 1358.7,1884.74 1364.84,1884.74 1370.99,1884.74 1377.14,1884.74 1383.29,1884.74 1389.44,1884.74 1395.59,1884.74 1401.74,1884.74 1407.89,1767.9 1414.04,1767.9 1420.19,1767.9 1426.34,1767.9 1432.49,1767.9 1438.64,1767.9 1444.78,1767.9 1450.93,1767.9 1457.08,1767.9 1463.23,1767.9 1469.38,1767.9 1475.53,1767.9 1481.68,1767.9 1487.83,1767.9 1493.98,1767.9 1500.13,1767.9 1506.28,1767.9 1512.43,1767.9 1518.57,1767.9 1524.72,1767.9" stroke="#00A0FF" stroke-width="4.6" fill="none" stroke-linejoin="round"/>
<path d="M164.35 2936.3a13.7 13.7 0 1 0 27.4 0a13.7 13.7 0 1 0 -27.4 0M170.5 2936.3a13.7 13.7 0 1 0 27.4 0a13.7 13.7 0 1 0 -27.4 0M176.65 2936.3a13.7 13.7 0 1 0 27.4 0a13.7 13.7 0 1 0 -27.4 0M182.8 2936.3a13.7 13.7 0 1 0 27.4 0a13.7 13.7 0 1 0 -27.4 0M188.95 2936.3a13.7 13.7 0 1 0 27.4 0a13.7 13.7 0 1 0 -27.4 0M195.1 2936.3a13.7 13.7 0 1 0 27.4 0a13.7 13.7 0 1 0 -27.4 0M201.24 2936.3a13.7 13.7 0 1 0 27.4 0a13.7 13.7 0 1 0 -27.4 0M207.39 2936.3a13.7 13.7 0 1 0 27.4 0a13.7 13.7 0 1 0 -27.4 0M213.54 2936.3a13.7 13.7 0 1 0 27.4 0a13.7 13.7 0 1 0 -27.4 0M219.69 2936.3a13.7 13.7 0 1 0 27.4 0a13.7 13.7 0 1 0 -27.4 0M225.84 2936.3a13.7 13.7 0 1 0 27.4 0a13.7 13.7 0 1 0 -27.4 0M231.99 2936.3a13.7 13.7 0 1 0 27.4 0a13.7 13.7 0 1 0 -27.4 0M238.14 2936.3a13.7 13.7 0 1 0 27.4 0a13.7 13.7 0 1 0 -27.4 0M244.29 2936.3a13.7 13.7 0 1 0 27.4 0a13.7 13.7 0 1 0 -27.4 0M250.44 2936.3a13.7 13.7 0 1 0 27.4 0a13.7 13.7 0 1 0 -27.4 0M256.59 2936.3a13.7 13.7 0 1 0 27.4 0a13.7 13.7 0 1 0 -27.4 0M262.74 2936.3a13.7 13.7 0 1 0 27.4 0a13.7 13.7 0 1 0 -27.4 0M268.89 2936.3a13.7 13.7 0 1 0 27.4 0a13.7 13.7 0 1 0 -27.4 0M275.03 2936.3a13.7 13.7 0 1 0 27.4 0a13.7 13.7 0 1 0 -27.4 0M281.18 2936.3a13.7 13.7 0 1 0 27.4 0a13.7 13.7 0 1 0 -27.4 0M287.33 2819.46a13.7 13.7 0 1 0 27.4 0a13.7 13.7 0 1 0 -27.4 0M293.48 2819.46a13.7 13.7 0 1 0 27.4 0a13.7 13.7 0 1 0 -27.4 0M299.63 2819.46a13.7 13.7 0 1 0 27.4 0a13.7 13.7 0 1 0 -27.4 0M305.78 2819.46a13.7 13.7 0 1 0 27.4 0a13.7 13.7 0 1 0 -27.4 0M311.93 2819.46a13.7 13.7 0 1 0 27.4 0a13.7 13.7 0 1 0 -27.4 0M318.08 2819.46a13.7 13.7 0 1 0 27.4 0a13.7 13.7 0 1 0 -27.4 0M324.23 2819.46a13.7 13.7 0 1 0 27.4 0a13.7 13.7 0 1 0 -27.4 0M330.38 2819.46a13.7 13.7 0 1 0 27.4 0a13.7 13.7 0 1 0 -27.4 0M336.53 2819.46a13.7 13.7 0 1 0 27.4 0a13.7 13.7 0 1 0 -27.4 0M342.68 2819.46a13.7 13.7 0 1 0 27.4 0a13.7 13.7 0 1 0 -27.4 0M348.83 2819.46a13.7 13.7 0 1 0 27.4 0a13.7 13.7 0 1 0 -27.4 0M354.97 2819.46a13.7 13.7 0 1 0 27.4 0a13.7 13.7 0 1 0 -27.4 0M361.12 2819.46a13.7 13.7 0 1 0 27.4 0a13.7 13.7 0 1 0 -27.4 0M367.27 2819.46a13.7 13.7 0 1 0 27.4 0a13.7 13.7 0 1 0 -27.4 0M373.42 2819.46a13.7 13.7 0 1 0 27.4 0a13.7 13.7 0 1 0 -27.4 0M379.57 2819.46a13.7 13.7 0 1 0 27.4 0a13.7 13.7 0 1 0 -27.4 0M385.72 2819.46a13.7 13.7 0 1 0 27.4 0a13.7 13.7 0 1 0 -27.4 0M391.87 2819.46a13.7 13.7 0 1 0 27.4 0a13.7 13.7 0 1 0 -27.4 0M398.02 2819.46a13.7 13.7 0 1 0 27.4 0a13.7 13.7 0 1 0 -27.4 0M404.17 2819.46a13.7 13.7 0 1 0 27.4 0a13.7 13.7 0 1 0 -27.4 0M410.32 1884.74a13.7 13.7 0 1 0 27.4 0a13.7 13.7 0 1 0 -27.4 0M416.47 1884.74a13.7 13.7 0 1 0 27.4 0a13.7 13.7 0 1 0 -27.4 0M422.62 1884.74a13.7 13.7 0 1 0 27.4 0a13.7 13.7 0 1 0 -27.4 0M428.76 1884.74a13.7 13.7 0 1 0 27.4 0a13.7 13.7 0 1 0 -27.4 0M434.91 1884.74a13.7 13.7 0 1 0 27.4 0a13.7 13.7 0 1 0 -27.4 0M441.06 1884.74a13.7 13.7 0 1 0 27.4 0a13.7 13.7 0 1 0 -27.4 0M447.21 1884.74a13.7 13.7 0 1 0 27.4 0a13.7 13.7 0 1 0 -27.4 0M453.36 1884.74a13.7 13.7 0 1 0 27.4 0a13.7 13.7 0 1 0 -27.4 0M459.51 1884.74a13.7 13.7 0 1 0 27.4 0a13.7 13.7 0 1 0 -27.4 0M465.66 1884.74a13.7 13.7 0 1 0 27.4 0a13.7 13.7 0 1 0 -27.4 0M471.81 1884.74a13.7 13.7 0 1 0 27.4 0a13.7 13.7 0 1 0 -27.4 0M477.96 1884.74a13.7 13.7 0 1 0 27.4 0a13.7 13.7 0 1 0 -27.4 0M484.11 1884.74a13.7 13.7 0 1 0 27.4 0a13.7 13.7 0 1 0 -27.4 0M490.26 1884.74a13.7 13.7 0 1 0 27.4 0a13.7 13.7 0 1 0 -27.4 0M496.41 1884.74a13.7 13.7 0 1 0 27.4 0a13.7 13.7 0 1 0 -27.4 0M502.56 1884.74a13.7 13.7 0 1 0 27.4 0a13.7 13.7 0 1 0 -27.4 0M508.7 1884.74a13.7 13.7 0 1 0 27.4 0a13.7 13.7 0 1 0 -27.4 0M514.85 1884.74a13.7 13.7 0 1 0 27.4 0a13.7 13.7 0 1 0 -27.4 0M521 1884.74a13.7 13.7 0 1 0 27.4 0a13.7 13.7 0 1 0 -27.4 0M527.15 1884.74a13.7 13.7 0 1 0 27.4 0a13.7 13.7 0 1 0 -27.4 0M533.3 2585.78a13.7 13.7 0 1 0 27.4 0a13.7 13.7 0 1 0 -27.4 0M539.45 2585.78a13.7 13.7 0 1 0 27.4 0a13.7 13.7 0 1 0 -27.4 0M545.6 2585.78a13.7 13.7 0 1 0 27.4 0a13.7 13.7 0 1 0 -27.4 0M551.75 2585.78a13.7 13.7 0 1 0 27.4 0a13.7 13.7 0 1 0 -27.4 0M557.9 2585.78a13.7 13.7 0 1 0 27.4 0a13.7 13.7 0 1 0 -27.4 0M564.05 2585.78a13.7 13.7 0 1 0 27.4 0a13.7 13.7 0 1 0 -27.4 0M570.2 2585.78a13.7 13.7 0 1 0 27.4 0a13.7 13.7 0 1 0 -27.4 0M576.35 2585.78a13.7 13.7 0 1 0 27.4 0a13.7 13.7 0 1 0 -27.4 0M582.49 2585.78a13.7 13.7 0 1 0 27.4 0a13.7 13.7 0 1 0 -27.4 0M588.64 2585.78a13.7 13.7 0 1 0 27.4 0a13.7 13.7 0 1 0 -27.4 0M594.79 2585.78a13.7 13.7 0 1 0 27.4 0a13.7 13.7 0 1 0 -27.4 0M600.94 2585.78a13.7 13.7 0 1 0 27.4 0a13.7 13.7 0 1 0 -27.4 0M607.09 2585.78a13.7 13.7 0 1 0 27.4 0a13.7 13.7 0 1 0 -27.4 0M613.24 2585.78a13.7 13.7 0 1 0 27.4 0a13.7 13.7 0 1 0 -27.4 0M619.39 2585.78a13.7 13.7 0 1 0 27.4 0a13.7 13.7 0 1 0 -27.4 0M625.54 2585.78a13.7 13.7 0 1 0 27.4 0a13.7 13.7 0 1 0 -27.4 0M631.69 2585.78a13.7 13.7 0 1 0 27.4 0a13.7 13.7 0 1 0 -27.4 0M637.84 2585.78a13.7 13.7 0 1 0 27.4 0a13.7 13.7 0 1 0 -27.4 0M643.99 2585.78a13.7 13.7 0 1 0 27.4 0a13.7 13.7 0 1 0 -27.4 0M650.14 2585.78a13.7 13.7 0 1 0 27.4 0a13.7 13.7 0 1 0 -27.4 0M656.29 2468.94a13.7 13.7 0 1 0 27.4 0a13.7 13.7 0 1 0 -27.4 0M662.43 2468.94a13.7 13.7 0 1 0 27.4 0a13.7 13.7 0 1 0 -27.4 0M668.58 2468.94a13.7 13.7 0 1 0 27.4 0a13.7 13.7 0 1 0 -27.4 0M674.73 2468.94a13.7 13.7 0 1 0 27.4 0a13.7 13.7 0 1 0 -27.4 0M680.88 2468.94a13.7 13.7 0 1 0 27.4 0a13.7 13.7 0 1 0 -27.4 0M687.03 2468.94a13.7 13.7 0 1 0 27.4 0a13.7 13.7 0 1 0 -27.4 0M693.18 2468.94a13.7 13.7 0 1 0 27.4 0a13.7 13.7 0 1 0 -27.4 0M699.33 2468.94a13.7 13.7 0 1 0 27.4 0a13.7 13.7 0 1 0 -27.4 0M705.48 2468.94a13.7 13.7 0 1 0 27.4 0a13.7 13.7 0 1 0 -27.4 0M711.63 2468.94a13.7 13.7 0 1 0 27.4 0a13.7 13.7 0 1 0 -27.4 0M717.78 2468.94a13.7 13.7 0 1 0 27.4 0a13.7 13.7 0 1 0 -27.4 0M723.93 2468.94a13.7 13.7 0 1 0 27.4 0a13.7 13.7 0 1 0 -27.4 0M730.08 2468.94a13.7 13.7 0 1 0 27.4 0a13.7 13.7 0 1 0 -27.4 0M736.22 2468.94a13.7 13.7 0 1 0 27.4 0a13.7 13.7 0 1 0 -27.4 0M742.37 2468.94a13.7 13.7 0 1 0 27.4 0a13.7 13.7 0 1 0 -27.4 0M748.52 2468.94a13.7 13.7 0 1 0 27.4 0a13.7 13.7 0 1 0 -27.4 0M754.67 2468.94a13.7 13.7 0 1 0 27.4 0a13.7 13.7 0 1 0 -27.4 0M760.82 2819.46a13.7 13.7 0 1 0 27.4 0a13.7 13.7 0 1 0 -27.4 0M766.97 2468.94a13.7 13.7 0 1 0 27.4 0a13.7 13.7 0 1 0 -27.4 0M773.12 2468.94a13.7 13.7 0 1 0 27.4 0a13.7 13.7 0 1 0 -27.4 0M779.27 2352.1a13.7 13.7 0 1 0 27.4 0a13.7 13.7 0 1 0 -27.4 0M785.42 2352.1a13.7 13.7 0 1 0 27.4 0a13.7 13.7 0 1 0 -27.4 0M791.57 2352.1a13.7 13.7 0 1 0 27.4 0a13.7 13.7 0 1 0 -27.4 0M797.72 2352.1a13.7 13.7 0 1 0 27.4 0a13.7 13.7 0 1 0 -27.4 0M803.87 2352.1a13.7 13.7 0 1 0 27.4 0a13.7 13.7 0 1 0 -27.4 0M810.02 2352.1a13.7 13.7 0 1 0 27.4 0a13.7 13.7 0 1 0 -27.4 0M816.16 2352.1a13.7 13.7 0 1 0 27.4 0a13.7 13.7 0 1 0 -27.4 0M822.31 2352.1a13.7 13.7 0 1 0 27.4 0a13.7 13.7 0 1 0 -27.4 0M828.46 2352.1a13.7 13.7 0 1 0 27.4 0a13.7 13.7 0 1 0 -27.4 0M834.61 2352.1a13.7 13.7 0 1 0 27.4 0a13.7 13.7 0 1 0 -27.4 0M840.76 2352.1a13.7 13.7 0 1 0 27.4 0a13.7 13.7 0 1 0 -27.4 0M846.91 2352.1a13.7 13.7 0 1 0 27.4 0a13.7 13.7 0 1 0 -27.4 0M853.06 2352.1a13.7 13.7 0 1 0 27.4 0a13.7 13.7 0 1 0 -27.4 0M859.21 2352.1a13.7 13.7 0 1 0 27.4 0a13.7 13.7 0 1 0 -27.4 0M865.36 2352.1a13.7 13.7 0 1 0 27.4 0a13.7 13.7 0 1 0 -27.4 0M871.51 2352.1a13.7 13.7 0 1 0 27.4 0a13.7 13.7 0 1 0 -27.4 0M877.66 2352.1a13.7 13.7 0 1 0 27.4 0a13.7 13.7 0 1 0 -27.4 0M883.81 2352.1a13.7 13.7 0 1 0 27.4 0a13.7 13.7 0 1 0 -27.4 0M889.95 2352.1a13.7 13.7 0 1 0 27.4 0a13.7 13.7 0 1 0 -27.4 0M896.1 2352.1a13.7 13.7 0 1 0 27.4 0a13.7 13.7 0 1 0 -27.4 0M902.25 2235.26a13.7 13.7 0 1 0 27.4 0a13.7 13.7 0 1 0 -27.4 0M908.4 2585.78a13.7 13.7 0 1 0 27.4 0a13.7 13.7 0 1 0 -27.4 0M914.55 2235.26a13.7 13.7 0 1 0 27.4 0a13.7 13.7 0 1 0 -27.4 0M920.7 2235.26a13.7 13.7 0 1 0 27.4 0a13.7 13.7 0 1 0 -27.4 0M926.85 2235.26a13.7 13.7 0 1 0 27.4 0a13.7 13.7 0 1 0 -27.4 0M933 2235.26a13.7 13.7 0 1 0 27.4 0a13.7 13.7 0 1 0 -27.4 0M939.15 2235.26a13.7 13.7 0 1 0 27.4 0a13.7 13.7 0 1 0 -27.4 0M945.3 2235.26a13.7 13.7 0 1 0 27.4 0a13.7 13.7 0 1 0 -27.4 0M951.45 2235.26a13.7 13.7 0 1 0 27.4 0a13.7 13.7 0 1 0 -27.4 0M957.6 2235.26a13.7 13.7 0 1 0 27.4 0a13.7 13.7 0 1 0 -27.4 0M963.75 2235.26a13.7 13.7 0 1 0 27.4 0a13.7 13.7 0 1 0 -27.4 0M969.89 2235.26a13.7 13.7 0 1 0 27.4 0a13.7 13.7 0 1 0 -27.4 0M976.04 2235.26a13.7 13.7 0 1 0 27.4 0a13.7 13.7 0 1 0 -27.4 0M982.19 2235.26a13.7 13.7 0 1 0 27.4 0a13.7 13.7 0 1 0 -27.4 0M988.34 2235.26a13.7 13.7 0 1 0 27.4 0a13.7 13.7 0 1 0 -27.4 0M994.49 2235.26a13.7 13.7 0 1 0 27.4 0a13.7 13.7 0 1 0 -27.4 0M1000.64 2235.26a13.7 13.7 0 1 0 27.4 0a13.7 13.7 0 1 0 -27.4 0M1006.79 2235.26a13.7 13.7 0 1 0 27.4 0a13.7 13.7 0 1 0 -27.4 0M1012.94 2235.26a13.7 13.7 0 1 0 27.4 0a13.7 13.7 0 1 0 -27.4 0M1019.09 2585.78a13.7 13.7 0 1 0 27.4 0a13.7 13.7 0 1 0 -27.4 0M1025.24 2118.42a13.7 13.7 0 1 0 27.4 0a13.7 13.7 0 1 0 -27.4 0M1031.39 2118.42a13.7 13.7 0 1 0 27.4 0a13.7 13.7 0 1 0 -27.4 0M1037.54 2118.42a13.7 13.7 0 1 0 27.4 0a13.7 13.7 0 1 0 -27.4 0M1043.68 2118.42a13.7 13.7 0 1 0 27.4 0a13.7 13.7 0 1 0 -27.4 0M1049.83 2118.42a13.7 13.7 0 1 0 27.4 0a13.7 13.7 0 1 0 -27.4 0M1055.98 2118.42a13.7 13.7 0 1 0 27.4 0a13.7 13.7 0 1 0 -27.4 0M1062.13 2118.42a13.7 13.7 0 1 0 27.4 0a13.7 13.7 0 1 0 -27.4 0M1068.28 2118.42a13.7 13.7 0 1 0 27.4 0a13.7 13.7 0 1 0 -27.4 0M1074.43 2118.42a13.7 13.7 0 1 0 27.4 0a13.7 13.7 0 1 0 -27.4 0M1080.58 2118.42a13.7 13.7 0 1 0 27.4 0a13.7 13.7 0 1 0 -27.4 0M1086.73 2118.42a13.7 13.7 0 1 0 27.4 0a13.7 13.7 0 1 0 -27.4 0M1092.88 2118.42a13.7 13.7 0 1 0 27.4 0a13.7 13.7 0 1 0 -27.4 0M1099.03 2118.42a13.7 13.7 0 1 0 27.4 0a13.7 13.7 0 1 0 -27.4 0M1105.18 2118.42a13.7 13.7 0 1 0 27.4 0a13.7 13.7 0 1 0 -27.4 0M1111.33 2118.42a13.7 13.7 0 1 0 27.4 0a13.7 13.7 0 1 0 -27.4 0M1117.48 2118.42a13.7 13.7 0 1 0 27.4 0a13.7 13.7 0 1 0 -27.4 0M1123.62 2118.42a13.7 13.7 0 1 0 27.4 0a13.7 13.7 0 1 0 -27.4 0M1129.77 2118.42a13.7 13.7 0 1 0 27.4 0a13.7 13.7 0 1 0 -27.4 0M1135.92 2118.42a13.7 13.7 0 1 0 27.4 0a13.7 13.7 0 1 0 -27.4 0M1142.07 2118.42a13.7 13.7 0 1 0 27.4 0a13.7 13.7 0 1 0 -27.4 0M1148.22 2001.58a13.7 13.7 0 1 0 27.4 0a13.7 13.7 0 1 0 -27.4 0M1154.37 2001.58a13.7 13.7 0 1 0 27.4 0a13.7 13.7 0 1 0 -27.4 0M1160.52 2001.58a13.7 13.7 0 1 0 27.4 0a13.7 13.7 0 1 0 -27.4 0M1166.67 2001.58a13.7 13.7 0 1 0 27.4 0a13.7 13.7 0 1 0 -27.4 0M1172.82 2001.58a13.7 13.7 0 1 0 27.4 0a13.7 13.7 0 1 0 -27.4 0M1178.97 2001.58a13.7 13.7 0 1 0 27.4 0a13.7 13.7 0 1 0 -27.4 0M1185.12 2001.58a13.7 13.7 0 1 0 27.4 0a13.7 13.7 0 1 0 -27.4 0M1191.27 2001.58a13.7 13.7 0 1 0 27.4 0a13.7 13.7 0 1 0 -27.4 0M1197.41 2001.58a13.7 13.7 0 1 0 27.4 0a13.7 13.7 0 1 0 -27.4 0M1203.56 2001.58a13.7 13.7 0 1 0 27.4 0a13.7 13.7 0 1 0 -27.4 0M1209.71 2001.58a13.7 13.7 0 1 0 27.4 0a13.7 13.7 0 1 0 -27.4 0M1215.86 2001.58a13.7 13.7 0 1 0 27.4 0a13.7 13.7 0 1 0 -27.4 0M1222.01 2001.58a13.7 13.7 0 1 0 27.4 0a13.7 13.7 0 1 0 -27.4 0M1228.16 2585.78a13.7 13.7 0 1 0 27.4 0a13.7 13.7 0 1 0 -27.4 0M1234.31 2001.58a13.7 13.7 0 1 0 27.4 0a13.7 13.7 0 1 0 -27.4 0M1240.46 2001.58a13.7 13.7 0 1 0 27.4 0a13.7 13.7 0 1 0 -27.4 0M1246.61 2001.58a13.7 13.7 0 1 0 27.4 0a13.7 13.7 0 1 0 -27.4 0M1252.76 2001.58a13.7 13.7 0 1 0 27.4 0a13.7 13.7 0 1 0 -27.4 0M1258.91 2001.58a13.7 13.7 0 1 0 27.4 0a13.7 13.7 0 1 0 -27.4 0M1265.06 2001.58a13.7 13.7 0 1 0 27.4 0a13.7 13.7 0 1 0 -27.4 0M1271.21 1884.74a13.7 13.7 0 1 0 27.4 0a13.7 13.7 0 1 0 -27.4 0M1277.35 1884.74a13.7 13.7 0 1 0 27.4 0a13.7 13.7 0 1 0 -27.4 0M1283.5 1884.74a13.7 13.7 0 1 0 27.4 0a13.7 13.7 0 1 0 -27.4 0M1289.65 1884.74a13.7 13.7 0 1 0 27.4 0a13.7 13.7 0 1 0 -27.4 0M1295.8 1884.74a13.7 13.7 0 1 0 27.4 0a13.7 13.7 0 1 0 -27.4 0M1301.95 1884.74a13.7 13.7 0 1 0 27.4 0a13.7 13.7 0 1 0 -27.4 0M1308.1 1884.74a13.7 13.7 0 1 0 27.4 0a13.7 13.7 0 1 0 -27.4 0M1314.25 1884.74a13.7 13.7 0 1 0 27.4 0a13.7 13.7 0 1 0 -27.4 0M1320.4 1884.74a13.7 13.7 0 1 0 27.4 0a13.7 13.7 0 1 0 -27.4 0M1326.55 1884.74a13.7 13.7 0 1 0 27.4 0a13.7 13.7 0 1 0 -27.4 0M1332.7 1884.74a13.7 13.7 0 1 0 27.4 0a13.7 13.7 0 1 0 -27.4 0M1338.85 1884.74a13.7 13.7 0 1 0 27.4 0a13.7 13.7 0 1 0 -27.4 0M1345 1884.74a13.7 13.7 0 1 0 27.4 0a13.7 13.7 0 1 0 -27.4 0M1351.14 1884.74a13.7 13.7 0 1 0 27.4 0a13.7 13.7 0 1 0 -27.4 0M1357.29 1884.74a13.7 13.7 0 1 0 27.4 0a13.7 13.7 0 1 0 -27.4 0M1363.44 1884.74a13.7 13.7 0 1 0 27.4 0a13.7 13.7 0 1 0 -27.4 0M1369.59 1884.74a13.7 13.7 0 1 0 27.4 0a13.7 13.7 0 1 0 -27.4 0M1375.74 1884.74a13.7 13.7 0 1 0 27.4 0a13.7 13.7 0 1 0 -27.4 0M1381.89 1884.74a13.7 13.7 0 1 0 27.4 0a13.7 13.7 0 1 0 -27.4 0M1388.04 1884.74a13.7 13.7 0 1 0 27.4 0a13.7 13.7 0 1 0 -27.4 0M1394.19 1767.9a13.7 13.7 0 1 0 27.4 0a13.7 13.7 0 1 0 -27.4 0M1400.34 1767.9a13.7 13.7 0 1 0 27.4 0a13.7 13.7 0 1 0 -27.4 0M1406.49 1767.9a13.7 13.7 0 1 0 27.4 0a13.7 13.7 0 1 0 -27.4 0M1412.64 1767.9a13.7 13.7 0 1 0 27.4 0a13.7 13.7 0 1 0 -27.4 0M1418.79 1767.9a13.7 13.7 0 1 0 27.4 0a13.7 13.7 0 1 0 -27.4 0M1424.94 1767.9a13.7 13.7 0 1 0 27.4 0a13.7 13.7 0 1 0 -27.4 0M1431.08 1767.9a13.7 13.7 0 1 0 27.4 0a13.7 13.7 0 1 0 -27.4 0M1437.23 1767.9a13.7 13.7 0 1 0 27.4 0a13.7 13.7 0 1 0 -27.4 0M1443.38 1767.9a13.7 13.7 0 1 0 27.4 0a13.7 13.7 0 1 0 -27.4 0M1449.53 1767.9a13.7 13.7 0 1 0 27.4 0a13.7 13.7 0 1 0 -27.4 0M1455.68 1767.9a13.7 13.7 0 1 0 27.4 0a13.7 13.7 0 1 0 -27.4 0M1461.83 1767.9a13.7 13.7 0 1 0 27.4 0a13.7 13.7 0 1 0 -27.4 0M1467.98 1767.9a13.7 13.7 0 1 0 27.4 0a13.7 13.7 0 1 0 -27.4 0M1474.13 1767.9a13.7 13.7 0 1 0 27.4 0a13.7 13.7 0 1 0 -27.4 0M1480.28 1767.9a13.7 13.7 0 1 0 27.4 0a13.7 13.7 0 1 0 -27.4 0M1486.43 1767.9a13.7 13.7 0 1 0 27.4 0a13.7 13.7 0 1 0 -27.4 0M1492.58 1767.9a13.7 13.7 0 1 0 27.4 0a13.7 13.7 0 1 0 -27.4 0M1498.73 1767.9a13.7 13.7 0 1 0 27.4 0a13.7 13.7 0 1 0 -27.4 0M1504.87 1767.9a13.7 13.7 0 1 0 27.4 0a13.7 13.7 0 1 0 -27.4 0M1511.02 1767.9a13.7 13.7 0 1 0 27.4 0a13.7 13.7 0 1 0 -27.4 0" stroke="#00A0FF" stroke-width="5.0" fill="none"/>
<g font-size="57" fill="#262626"><text class="k" x="171.9" y="3008.3" text-anchor="middle">0</text><text class="k" x="479.36" y="3008.3" text-anchor="middle">50</text><text class="k" x="786.82" y="3008.3" text-anchor="middle">100</text><text class="k" x="1094.28" y="3008.3" text-anchor="middle">150</text><text class="k" x="1401.74" y="3008.3" text-anchor="middle">200</text><text class="k" x="1709.2" y="3008.3" text-anchor="middle">250</text><text class="k" x="150.4" y="2956.8" text-anchor="end">1</text><text class="k" x="150.4" y="2839.96" text-anchor="end">2</text><text class="k" x="150.4" y="2723.12" text-anchor="end">3</text><text class="k" x="150.4" y="2606.28" text-anchor="end">4</text><text class="k" x="150.4" y="2489.44" text-anchor="end">5</text><text class="k" x="150.4" y="2372.6" text-anchor="end">6</text><text class="k" x="150.4" y="2255.76" text-anchor="end">7</text><text class="k" x="150.4" y="2138.92" text-anchor="end">8</text><text class="k" x="150.4" y="2022.08" text-anchor="end">9</text><text class="k" x="150.4" y="1905.24" text-anchor="end">10</text><text class="k" x="150.4" y="1788.4" text-anchor="end">11</text></g>
<rect x="1155.2" y="2741" width="534.7" height="151.3" fill="#fff" stroke="#262626" stroke-width="2.1"/>
<path d="M1178 2782.1H1318.5" stroke="#FF00FF" stroke-width="4.6"/>
<path d="M1248.25 2768.1v28 M1238.75 2772.6l19 19 M1238.75 2791.6l19 -19" stroke="#FF00FF" stroke-width="4.6" fill="none"/>
<path d="M1178 2851.7H1318.5" stroke="#00A0FF" stroke-width="4.6"/>
<circle cx="1248.25" cy="2851.7" r="13.7" stroke="#00A0FF" stroke-width="5.0" fill="none"/>
<g font-size="51" fill="#000"><text class="k" x="1330.7" y="2801.5">True value</text><text class="k" x="1330.7" y="2869.8">Predicted value</text></g>
<g fill="#000" text-anchor="middle"><text x="941.55" y="1683.5" font-size="63.5">Test set</text><text x="940.55" y="1754.8" font-size="62.7">Accuracy=89.6090%</text></g>
<text class="k" x="940.55" y="3081.8" font-size="62.6" fill="#262626" text-anchor="middle">Prediction sample</text>
<text class="k" transform="translate(68.3 2351.3) rotate(-90)" font-size="62.3" fill="#262626" text-anchor="middle">Forecast result</text></g>
<g font-size="86" fill="#000"><text y="1586.5"><tspan x="846">(</tspan><tspan x="872.5" font-weight="bold">a</tspan><tspan x="912">)</tspan></text><text y="3188"><tspan x="841">(</tspan><tspan x="869" font-weight="bold">b</tspan><tspan x="917">)</tspan></text></g>
</svg>
</body></html>
